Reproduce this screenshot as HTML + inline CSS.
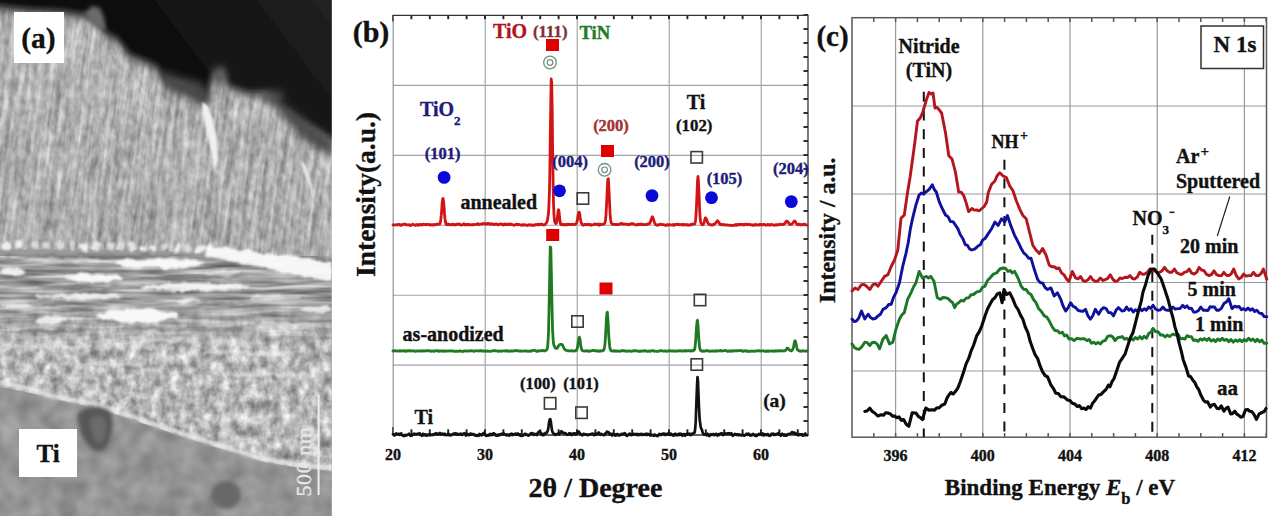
<!DOCTYPE html><html><head><meta charset="utf-8"><style>html,body{margin:0;padding:0;background:#fff;overflow:hidden}svg{display:block}text{font-family:"Liberation Serif", serif;font-weight:bold}</style></head><body>
<svg width="1280" height="516" viewBox="0 0 1280 516">
<defs>
<filter id="colF" filterUnits="userSpaceOnUse" x="-10" y="0" width="380" height="268" color-interpolation-filters="sRGB"><feTurbulence type="fractalNoise" baseFrequency="0.19 0.016" numOctaves="3" seed="4"/><feColorMatrix type="matrix" values="0.6 0 0 0 0.39  0.6 0 0 0 0.39  0.6 0 0 0 0.39  0 0 0 0 1"/><feGaussianBlur stdDeviation="0.6"/></filter>
<filter id="layF" filterUnits="userSpaceOnUse" x="0" y="256" width="332" height="230" color-interpolation-filters="sRGB"><feTurbulence type="fractalNoise" baseFrequency="0.02 0.2" numOctaves="2" seed="8"/><feColorMatrix type="matrix" values="1.2 0 0 0 0.05  1.2 0 0 0 0.05  1.2 0 0 0 0.05  0 0 0 0 1"/></filter>
<filter id="spkF" filterUnits="userSpaceOnUse" x="0" y="300" width="332" height="190" color-interpolation-filters="sRGB"><feTurbulence type="fractalNoise" baseFrequency="0.1 0.08" numOctaves="3" seed="12"/><feColorMatrix type="matrix" values="0.8 0 0 0 0.33  0.8 0 0 0 0.33  0.8 0 0 0 0.33  0 0 0 0 1"/></filter>
<linearGradient id="spkG" x1="0" y1="0" x2="0" y2="1"><stop offset="0" stop-color="#fff" stop-opacity="0"/><stop offset="0.25" stop-color="#fff" stop-opacity="0.9"/><stop offset="1" stop-color="#fff" stop-opacity="0.9"/></linearGradient>
<mask id="spkM" maskUnits="userSpaceOnUse" x="0" y="300" width="332" height="190"><rect x="0" y="300" width="332" height="190" fill="url(#spkG)"/></mask>
<filter id="subF" filterUnits="userSpaceOnUse" x="0" y="380" width="332" height="140" color-interpolation-filters="sRGB"><feTurbulence type="fractalNoise" baseFrequency="0.05 0.05" numOctaves="2" seed="21"/><feColorMatrix type="matrix" values="0.25 0 0 0 0.455  0.25 0 0 0 0.455  0.25 0 0 0 0.455  0 0 0 0 1"/><feComposite operator="in" in2="SourceGraphic"/></filter>
<filter id="blur1" x="-50%" y="-50%" width="200%" height="200%"><feGaussianBlur stdDeviation="1"/></filter>
<filter id="blur15" x="-20%" y="-100%" width="140%" height="300%"><feGaussianBlur stdDeviation="1.5"/></filter>
<filter id="rough" filterUnits="userSpaceOnUse" x="0" y="230" width="332" height="170"><feTurbulence type="fractalNoise" baseFrequency="0.09 0.12" numOctaves="2" seed="3" result="n"/><feDisplacementMap in="SourceGraphic" in2="n" scale="7" xChannelSelector="R" yChannelSelector="G"/><feGaussianBlur stdDeviation="1"/></filter>
<linearGradient id="colG" x1="0" y1="0" x2="0" y2="262" gradientUnits="userSpaceOnUse"><stop offset="0" stop-color="#fff" stop-opacity="0.12"/><stop offset="0.5" stop-color="#fff" stop-opacity="0"/><stop offset="1" stop-color="#000" stop-opacity="0.05"/></linearGradient>
<linearGradient id="darkG" x1="335" y1="0" x2="190" y2="110" gradientUnits="userSpaceOnUse"><stop offset="0" stop-color="#222"/><stop offset="0.4" stop-color="#181818"/><stop offset="1" stop-color="#0e0e0e"/></linearGradient>
<filter id="isoF" filterUnits="userSpaceOnUse" x="0" y="0" width="332" height="262" color-interpolation-filters="sRGB"><feTurbulence type="fractalNoise" baseFrequency="0.16 0.1" numOctaves="2" seed="31"/><feColorMatrix type="matrix" values="1.0 0 0 0 0.19  1.0 0 0 0 0.19  1.0 0 0 0 0.19  0 0 0 0 1"/></filter>
<filter id="blur2" x="-50%" y="-50%" width="200%" height="200%"><feGaussianBlur stdDeviation="2"/></filter>
<filter id="blur4" x="-50%" y="-50%" width="200%" height="200%"><feGaussianBlur stdDeviation="4"/></filter>
<filter id="blur8" x="-10%" y="-10%" width="120%" height="120%"><feGaussianBlur stdDeviation="8"/></filter>
<clipPath id="clipA"><rect x="0" y="0" width="331.5" height="516"/></clipPath>
</defs>
<g clip-path="url(#clipA)">
<rect x="0" y="0" width="332" height="516" fill="#a9a9a9"/>
<g transform="skewX(-7)"><rect x="-10" y="0" width="380" height="268" filter="url(#colF)"/></g>
<rect x="0" y="0" width="332" height="262" filter="url(#isoF)" opacity="0.3"/>
<rect x="0" y="0" width="332" height="262" fill="url(#colG)"/>
<path d="M0,250 C80,248 160,250 210,254 C260,260 300,265 332,269 L332,480 L0,480 Z" fill="#9a9a9a"/>
<rect x="0" y="256" width="332" height="230" filter="url(#layF)" opacity="0.6"/>
<rect x="0" y="300" width="332" height="190" filter="url(#spkF)" mask="url(#spkM)"/>
<g filter="url(#rough)">
<ellipse cx="159.5" cy="263.5" rx="44.5" ry="4.5" fill="#f8f8f8" opacity="1.00"/>
<ellipse cx="13.0" cy="271.5" rx="13.0" ry="4.5" fill="#f8f8f8" opacity="0.90"/>
<ellipse cx="94.0" cy="278.0" rx="29.0" ry="4.0" fill="#f8f8f8" opacity="1.00"/>
<ellipse cx="194.0" cy="287.0" rx="55.0" ry="4.0" fill="#f8f8f8" opacity="0.90"/>
<ellipse cx="78.5" cy="296.0" rx="44.5" ry="3.0" fill="#f8f8f8" opacity="0.85"/>
<ellipse cx="137.5" cy="316.0" rx="40.5" ry="7.0" fill="#f8f8f8" opacity="1.00"/>
<ellipse cx="51.0" cy="320.0" rx="17.0" ry="4.0" fill="#f8f8f8" opacity="0.85"/>
<ellipse cx="316.5" cy="310.0" rx="15.5" ry="4.0" fill="#f8f8f8" opacity="0.80"/>
<ellipse cx="188.5" cy="301.5" rx="10.5" ry="3.5" fill="#f8f8f8" opacity="0.80"/>
<ellipse cx="275.0" cy="297.5" rx="25.0" ry="2.5" fill="#f8f8f8" opacity="0.60"/>
<ellipse cx="15.0" cy="305.5" rx="15.0" ry="2.5" fill="#f8f8f8" opacity="0.60"/>
<ellipse cx="285.0" cy="324.5" rx="35.0" ry="2.5" fill="#f8f8f8" opacity="0.50"/>
<ellipse cx="165.0" cy="340.0" rx="35.0" ry="2.0" fill="#f8f8f8" opacity="0.50"/>
<ellipse cx="50.0" cy="347.0" rx="40.0" ry="2.0" fill="#f8f8f8" opacity="0.50"/>
<ellipse cx="250.0" cy="352.5" rx="50.0" ry="2.5" fill="#f8f8f8" opacity="0.50"/>
<ellipse cx="105.0" cy="364.0" rx="45.0" ry="2.0" fill="#f8f8f8" opacity="0.45"/>
<ellipse cx="275.0" cy="374.5" rx="45.0" ry="2.5" fill="#f8f8f8" opacity="0.45"/>
<ellipse cx="222.5" cy="273.0" rx="17.5" ry="3.0" fill="#f8f8f8" opacity="0.60"/>
<ellipse cx="60.0" cy="260.0" rx="40.0" ry="2.0" fill="#f8f8f8" opacity="0.50"/>
<ellipse cx="100.0" cy="256.0" rx="100.0" ry="2.0" fill="#707070" opacity="0.6"/>
<ellipse cx="80.0" cy="271.5" rx="50.0" ry="1.5" fill="#707070" opacity="0.6"/>
<ellipse cx="85.0" cy="287.5" rx="55.0" ry="1.5" fill="#707070" opacity="0.6"/>
<ellipse cx="190.0" cy="278.5" rx="50.0" ry="1.5" fill="#707070" opacity="0.6"/>
<ellipse cx="70.0" cy="304.5" rx="40.0" ry="1.5" fill="#707070" opacity="0.6"/>
<ellipse cx="220.0" cy="303.5" rx="40.0" ry="1.5" fill="#707070" opacity="0.6"/>
<ellipse cx="170.0" cy="328.5" rx="50.0" ry="1.5" fill="#707070" opacity="0.6"/>
<ellipse cx="40.0" cy="331.5" rx="40.0" ry="1.5" fill="#707070" opacity="0.6"/>
<ellipse cx="6.1" cy="246.7" rx="4.1" ry="4.6" fill="#f4f4f4" opacity="0.93"/>
<ellipse cx="19.9" cy="244.7" rx="4.8" ry="3.9" fill="#f4f4f4" opacity="0.93"/>
<ellipse cx="34.0" cy="245.1" rx="4.8" ry="3.9" fill="#f4f4f4" opacity="0.69"/>
<ellipse cx="46.9" cy="245.0" rx="3.9" ry="3.4" fill="#f4f4f4" opacity="0.70"/>
<ellipse cx="60.9" cy="245.5" rx="4.4" ry="4.6" fill="#f4f4f4" opacity="0.65"/>
<ellipse cx="72.6" cy="245.2" rx="2.8" ry="4.7" fill="#f4f4f4" opacity="0.67"/>
<ellipse cx="83.2" cy="247.9" rx="5.0" ry="3.6" fill="#f4f4f4" opacity="0.94"/>
<ellipse cx="96.6" cy="246.0" rx="4.2" ry="4.9" fill="#f4f4f4" opacity="0.84"/>
<ellipse cx="111.3" cy="246.5" rx="4.7" ry="3.7" fill="#f4f4f4" opacity="0.66"/>
<ellipse cx="121.3" cy="246.6" rx="2.7" ry="4.2" fill="#f4f4f4" opacity="0.60"/>
<ellipse cx="132.0" cy="246.7" rx="3.3" ry="4.6" fill="#f4f4f4" opacity="0.77"/>
<ellipse cx="142.4" cy="248.0" rx="3.7" ry="3.1" fill="#f4f4f4" opacity="0.94"/>
<ellipse cx="152.5" cy="248.5" rx="4.4" ry="3.0" fill="#f4f4f4" opacity="0.88"/>
<ellipse cx="164.3" cy="246.1" rx="3.9" ry="3.1" fill="#f4f4f4" opacity="0.66"/>
<ellipse cx="177.1" cy="248.5" rx="3.0" ry="4.9" fill="#f4f4f4" opacity="0.93"/>
<ellipse cx="186.8" cy="247.9" rx="3.4" ry="4.6" fill="#f4f4f4" opacity="0.64"/>
<ellipse cx="199.7" cy="249.0" rx="4.5" ry="3.1" fill="#f4f4f4" opacity="0.93"/>
<ellipse cx="209.9" cy="248.4" rx="3.4" ry="4.8" fill="#f4f4f4" opacity="0.72"/>
<path d="M205,246 C230,248 260,252 332,262 L332,281 C300,276 262,268 240,262 C225,259 212,258 205,256 Z" fill="#fbfbfb" opacity="0.95"/>
</g>
<path d="M0,387 L32,393.5 L106,411 L193,440 L260,461 L294,467 L332,471 L332,516 L0,516 Z" fill="#929292"/>
<path d="M0,387 L32,393.5 L106,411 L193,440 L260,461 L294,467 L332,471 L332,516 L0,516 Z" filter="url(#subF)"/>
<path d="M0,382 L14,385 L34,389.5 L47,395 L95,404 L106,408 L193,437 L260,458 L294,464 L332,468" fill="none" stroke="#ececec" stroke-width="4" filter="url(#blur15)" opacity="0.85"/>
<path d="M77,416 C80,406 104,403 111,413 C115,427 110,446 101,451 C92,453 84,442 80,432 Z" fill="#575757" filter="url(#blur2)"/>
<path d="M90,420 C94,414 104,414 106,422 C108,432 104,442 99,444 C94,442 91,432 90,420 Z" fill="#6c6c6c" filter="url(#blur2)"/>
<ellipse cx="226" cy="495" rx="15" ry="14" fill="#686868" filter="url(#blur2)"/>
<path d="M-20,-20 L-20,4.6 L0,4.6 L31,7.8 L62,9.3 L80,12 L90,14 L100,22 L106,31 L118,37 L130,52.7 L145.8,59 L158,65 L164.4,77.5 L186,83.7 L198.5,93 L204.7,99 L209,82 L214,72 L223,68 L229.5,83.7 L248,90 L266.7,90 L279,102 L297.7,117 L310,124 L322.6,131 L335,139 L360,142 L360,-20 Z" fill="#3a3a3a" transform="translate(0,7)" filter="url(#blur4)" opacity="0.8"/>
<path d="M-20,-20 L-20,4.6 L0,4.6 L31,7.8 L62,9.3 L80,12 L90,14 L100,22 L106,31 L118,37 L130,52.7 L145.8,59 L158,65 L164.4,77.5 L186,83.7 L198.5,93 L204.7,99 L209,82 L214,72 L223,68 L229.5,83.7 L248,90 L266.7,90 L279,102 L297.7,117 L310,124 L322.6,131 L335,139 L360,142 L360,-20 Z" fill="#555" transform="translate(0,3)" filter="url(#blur2)"/>
<path d="M-20,-20 L-20,4.6 L0,4.6 L31,7.8 L62,9.3 L80,12 L90,14 L100,22 L106,31 L118,37 L130,52.7 L145.8,59 L158,65 L164.4,77.5 L186,83.7 L198.5,93 L204.7,99 L209,82 L214,72 L223,68 L229.5,83.7 L248,90 L266.7,90 L279,102 L297.7,117 L310,124 L322.6,131 L335,139 L360,142 L360,-20 Z" fill="url(#darkG)" filter="url(#blur2)"/>
<path d="M160,70 L182,78 L200,82 L212,96 L206,106 L190,98 L172,92 L162,82 Z" fill="#4a4a4a" filter="url(#blur4)"/>
<path d="M276,100 L296,113 L312,126 L335,143 L335,156 L318,150 L300,136 L284,116 Z" fill="#4a4a4a" filter="url(#blur4)"/>
<path d="M84,14 L92,6 L100,8 L104,18 L106,30 L98,28 L90,20 Z" fill="#6a6a6a" filter="url(#blur2)"/>
<ellipse cx="219" cy="76" rx="7" ry="10" fill="#5a5a5a" filter="url(#blur4)"/>
<ellipse cx="272" cy="97" rx="12" ry="6" fill="#555" filter="url(#blur4)"/>
<path d="M202,102 L208,106 L213,120 L217,140 L218,160 L214,172 L211,150 L206,128 L203,114 Z" fill="#f0f0f0" filter="url(#blur1)"/>
<path d="M300,160 L306,165 L312,185 L314,203 L309,185 L303,170 Z" fill="#e8e8e8" filter="url(#blur1)"/>
</g>
<rect x="14" y="12" width="50" height="51" fill="#fff"/>
<text x="38.5" y="48.3" font-size="29.5" text-anchor="middle" fill="#111" stroke="#111" stroke-width="0.35">(a)</text>
<rect x="19" y="429" width="58" height="48" fill="#fff"/>
<text x="48" y="462" font-size="25" text-anchor="middle" fill="#111" stroke="#111" stroke-width="0.35">Ti</text>
<line x1="318.6" y1="395" x2="318.6" y2="495" stroke="#eee" stroke-width="2"/>
<text transform="translate(311,496.5) rotate(-90)" font-size="22" textLength="69.5" fill="#e6e6e6" style="font-weight:normal" stroke="#e6e6e6" stroke-width="0.35">500 nm</text>
<line x1="485.2" y1="15" x2="485.2" y2="435" stroke="#a2a2a2" stroke-width="1.15"/>
<line x1="577.2" y1="15" x2="577.2" y2="435" stroke="#a2a2a2" stroke-width="1.15"/>
<line x1="669.2" y1="15" x2="669.2" y2="435" stroke="#a2a2a2" stroke-width="1.15"/>
<line x1="761.2" y1="15" x2="761.2" y2="435" stroke="#a2a2a2" stroke-width="1.15"/>
<line x1="393" y1="85.3" x2="808" y2="85.3" stroke="#a2a2a2" stroke-width="1.15"/>
<line x1="393" y1="155.3" x2="808" y2="155.3" stroke="#a2a2a2" stroke-width="1.15"/>
<line x1="393" y1="225.2" x2="808" y2="225.2" stroke="#a2a2a2" stroke-width="1.15"/>
<line x1="393" y1="295.2" x2="808" y2="295.2" stroke="#a2a2a2" stroke-width="1.15"/>
<line x1="393" y1="365.1" x2="808" y2="365.1" stroke="#a2a2a2" stroke-width="1.15"/>
<line x1="393.0" y1="15" x2="393.0" y2="21.5" stroke="#222" stroke-width="1.9"/>
<line x1="393.0" y1="435" x2="393.0" y2="427.0" stroke="#222" stroke-width="1.9"/>
<line x1="411.4" y1="15" x2="411.4" y2="19.2" stroke="#222" stroke-width="1.9"/>
<line x1="411.4" y1="435" x2="411.4" y2="429.3" stroke="#222" stroke-width="1.9"/>
<line x1="429.8" y1="15" x2="429.8" y2="19.2" stroke="#222" stroke-width="1.9"/>
<line x1="429.8" y1="435" x2="429.8" y2="429.3" stroke="#222" stroke-width="1.9"/>
<line x1="448.2" y1="15" x2="448.2" y2="19.2" stroke="#222" stroke-width="1.9"/>
<line x1="448.2" y1="435" x2="448.2" y2="429.3" stroke="#222" stroke-width="1.9"/>
<line x1="466.6" y1="15" x2="466.6" y2="19.2" stroke="#222" stroke-width="1.9"/>
<line x1="466.6" y1="435" x2="466.6" y2="429.3" stroke="#222" stroke-width="1.9"/>
<line x1="485.0" y1="15" x2="485.0" y2="19.2" stroke="#222" stroke-width="1.9"/>
<line x1="485.0" y1="435" x2="485.0" y2="429.3" stroke="#222" stroke-width="1.9"/>
<line x1="503.4" y1="15" x2="503.4" y2="19.2" stroke="#222" stroke-width="1.9"/>
<line x1="503.4" y1="435" x2="503.4" y2="429.3" stroke="#222" stroke-width="1.9"/>
<line x1="521.8" y1="15" x2="521.8" y2="19.2" stroke="#222" stroke-width="1.9"/>
<line x1="521.8" y1="435" x2="521.8" y2="429.3" stroke="#222" stroke-width="1.9"/>
<line x1="540.2" y1="15" x2="540.2" y2="19.2" stroke="#222" stroke-width="1.9"/>
<line x1="540.2" y1="435" x2="540.2" y2="429.3" stroke="#222" stroke-width="1.9"/>
<line x1="558.6" y1="15" x2="558.6" y2="19.2" stroke="#222" stroke-width="1.9"/>
<line x1="558.6" y1="435" x2="558.6" y2="429.3" stroke="#222" stroke-width="1.9"/>
<line x1="577.0" y1="15" x2="577.0" y2="19.2" stroke="#222" stroke-width="1.9"/>
<line x1="577.0" y1="435" x2="577.0" y2="429.3" stroke="#222" stroke-width="1.9"/>
<line x1="595.4" y1="15" x2="595.4" y2="19.2" stroke="#222" stroke-width="1.9"/>
<line x1="595.4" y1="435" x2="595.4" y2="429.3" stroke="#222" stroke-width="1.9"/>
<line x1="613.8" y1="15" x2="613.8" y2="19.2" stroke="#222" stroke-width="1.9"/>
<line x1="613.8" y1="435" x2="613.8" y2="429.3" stroke="#222" stroke-width="1.9"/>
<line x1="632.2" y1="15" x2="632.2" y2="19.2" stroke="#222" stroke-width="1.9"/>
<line x1="632.2" y1="435" x2="632.2" y2="429.3" stroke="#222" stroke-width="1.9"/>
<line x1="650.6" y1="15" x2="650.6" y2="19.2" stroke="#222" stroke-width="1.9"/>
<line x1="650.6" y1="435" x2="650.6" y2="429.3" stroke="#222" stroke-width="1.9"/>
<line x1="669.0" y1="15" x2="669.0" y2="19.2" stroke="#222" stroke-width="1.9"/>
<line x1="669.0" y1="435" x2="669.0" y2="429.3" stroke="#222" stroke-width="1.9"/>
<line x1="687.4" y1="15" x2="687.4" y2="19.2" stroke="#222" stroke-width="1.9"/>
<line x1="687.4" y1="435" x2="687.4" y2="429.3" stroke="#222" stroke-width="1.9"/>
<line x1="705.8" y1="15" x2="705.8" y2="19.2" stroke="#222" stroke-width="1.9"/>
<line x1="705.8" y1="435" x2="705.8" y2="429.3" stroke="#222" stroke-width="1.9"/>
<line x1="724.2" y1="15" x2="724.2" y2="19.2" stroke="#222" stroke-width="1.9"/>
<line x1="724.2" y1="435" x2="724.2" y2="429.3" stroke="#222" stroke-width="1.9"/>
<line x1="742.6" y1="15" x2="742.6" y2="19.2" stroke="#222" stroke-width="1.9"/>
<line x1="742.6" y1="435" x2="742.6" y2="429.3" stroke="#222" stroke-width="1.9"/>
<line x1="761.0" y1="15" x2="761.0" y2="19.2" stroke="#222" stroke-width="1.9"/>
<line x1="761.0" y1="435" x2="761.0" y2="429.3" stroke="#222" stroke-width="1.9"/>
<line x1="779.4" y1="15" x2="779.4" y2="19.2" stroke="#222" stroke-width="1.9"/>
<line x1="779.4" y1="435" x2="779.4" y2="429.3" stroke="#222" stroke-width="1.9"/>
<line x1="797.8" y1="15" x2="797.8" y2="19.2" stroke="#222" stroke-width="1.9"/>
<line x1="797.8" y1="435" x2="797.8" y2="429.3" stroke="#222" stroke-width="1.9"/>
<line x1="808" y1="15" x2="803.5" y2="15" stroke="#222" stroke-width="1.9"/>
<line x1="808" y1="29" x2="803.5" y2="29" stroke="#222" stroke-width="1.9"/>
<line x1="808" y1="43" x2="803.5" y2="43" stroke="#222" stroke-width="1.9"/>
<line x1="808" y1="57" x2="803.5" y2="57" stroke="#222" stroke-width="1.9"/>
<line x1="808" y1="71" x2="803.5" y2="71" stroke="#222" stroke-width="1.9"/>
<line x1="808" y1="85" x2="803.5" y2="85" stroke="#222" stroke-width="1.9"/>
<line x1="808" y1="99" x2="803.5" y2="99" stroke="#222" stroke-width="1.9"/>
<line x1="808" y1="113" x2="803.5" y2="113" stroke="#222" stroke-width="1.9"/>
<line x1="808" y1="127" x2="803.5" y2="127" stroke="#222" stroke-width="1.9"/>
<line x1="808" y1="141" x2="803.5" y2="141" stroke="#222" stroke-width="1.9"/>
<line x1="808" y1="155" x2="803.5" y2="155" stroke="#222" stroke-width="1.9"/>
<line x1="808" y1="169" x2="803.5" y2="169" stroke="#222" stroke-width="1.9"/>
<line x1="808" y1="183" x2="803.5" y2="183" stroke="#222" stroke-width="1.9"/>
<line x1="808" y1="197" x2="803.5" y2="197" stroke="#222" stroke-width="1.9"/>
<line x1="808" y1="211" x2="803.5" y2="211" stroke="#222" stroke-width="1.9"/>
<line x1="808" y1="225" x2="803.5" y2="225" stroke="#222" stroke-width="1.9"/>
<line x1="808" y1="239" x2="803.5" y2="239" stroke="#222" stroke-width="1.9"/>
<line x1="808" y1="253" x2="803.5" y2="253" stroke="#222" stroke-width="1.9"/>
<line x1="808" y1="267" x2="803.5" y2="267" stroke="#222" stroke-width="1.9"/>
<line x1="808" y1="281" x2="803.5" y2="281" stroke="#222" stroke-width="1.9"/>
<line x1="808" y1="295" x2="803.5" y2="295" stroke="#222" stroke-width="1.9"/>
<line x1="808" y1="309" x2="803.5" y2="309" stroke="#222" stroke-width="1.9"/>
<line x1="808" y1="323" x2="803.5" y2="323" stroke="#222" stroke-width="1.9"/>
<line x1="808" y1="337" x2="803.5" y2="337" stroke="#222" stroke-width="1.9"/>
<line x1="808" y1="351" x2="803.5" y2="351" stroke="#222" stroke-width="1.9"/>
<line x1="808" y1="365" x2="803.5" y2="365" stroke="#222" stroke-width="1.9"/>
<line x1="808" y1="379" x2="803.5" y2="379" stroke="#222" stroke-width="1.9"/>
<line x1="808" y1="393" x2="803.5" y2="393" stroke="#222" stroke-width="1.9"/>
<line x1="808" y1="407" x2="803.5" y2="407" stroke="#222" stroke-width="1.9"/>
<line x1="808" y1="421" x2="803.5" y2="421" stroke="#222" stroke-width="1.9"/>
<line x1="808" y1="435" x2="803.5" y2="435" stroke="#222" stroke-width="1.9"/>
<line x1="393.2" y1="15" x2="393.2" y2="435" stroke="#888" stroke-width="1.1"/>
<path d="M393,15.3 H808 V435 H393" fill="none" stroke="#333" stroke-width="1.3"/>
<polyline points="393.0,224.8 393.5,224.8 393.9,225.2 394.4,225.0 394.8,224.9 395.3,225.0 395.8,224.6 396.2,224.7 396.7,224.8 397.1,225.1 397.6,224.6 398.1,224.5 398.5,224.3 399.0,224.7 399.4,224.9 399.9,224.5 400.4,225.0 400.8,225.4 401.3,225.3 401.7,225.2 402.2,224.7 402.7,224.3 403.1,224.5 403.6,224.2 404.0,224.2 404.5,224.2 405.0,224.0 405.4,224.3 405.9,224.4 406.3,224.9 406.8,224.9 407.3,225.0 407.7,224.9 408.2,225.0 408.6,224.9 409.1,224.6 409.6,225.1 410.0,225.5 410.5,225.5 410.9,225.4 411.4,225.0 411.9,224.7 412.3,224.5 412.8,224.2 413.2,224.7 413.7,224.6 414.2,225.0 414.6,224.8 415.1,225.2 415.5,225.4 416.0,224.7 416.5,224.5 416.9,225.0 417.4,224.9 417.8,225.3 418.3,225.0 418.8,224.5 419.2,224.7 419.7,225.0 420.1,224.7 420.6,224.4 421.1,224.4 421.5,225.0 422.0,225.1 422.4,224.6 422.9,224.5 423.4,224.2 423.8,224.1 424.3,224.6 424.7,224.4 425.2,224.6 425.7,224.6 426.1,224.4 426.6,224.8 427.0,224.4 427.5,224.7 428.0,224.4 428.4,224.5 428.9,224.3 429.3,224.3 429.8,224.9 430.3,225.1 430.7,224.8 431.2,225.1 431.6,224.7 432.1,224.6 432.6,225.0 433.0,225.0 433.5,224.5 433.9,225.1 434.4,224.7 434.9,224.5 435.3,224.8 435.8,224.6 436.2,224.4 436.7,224.1 437.2,224.0 437.6,224.3 438.1,224.2 438.5,224.4 439.0,224.2 439.5,224.0 439.9,223.8 440.4,222.2 440.8,219.4 441.3,215.2 441.8,208.8 442.2,202.4 442.7,198.7 443.1,198.5 443.6,201.7 444.1,207.3 444.5,213.7 445.0,218.9 445.4,221.6 445.9,223.7 446.4,224.6 446.8,224.8 447.3,224.7 447.7,224.3 448.2,224.0 448.7,224.7 449.1,224.5 449.6,224.7 450.0,224.5 450.5,224.9 451.0,224.9 451.4,224.6 451.9,224.4 452.3,224.7 452.8,224.3 453.3,224.2 453.7,224.5 454.2,224.9 454.6,224.9 455.1,224.6 455.6,225.0 456.0,224.6 456.5,224.2 456.9,224.2 457.4,224.4 457.9,224.1 458.3,224.0 458.8,224.2 459.2,224.4 459.7,224.2 460.2,224.2 460.6,224.8 461.1,225.1 461.5,225.1 462.0,225.1 462.5,225.0 462.9,224.5 463.4,224.1 463.8,223.8 464.3,224.5 464.8,224.7 465.2,225.0 465.7,224.4 466.1,224.5 466.6,224.5 467.1,224.7 467.5,224.4 468.0,224.9 468.4,224.3 468.9,224.4 469.4,224.6 469.8,224.8 470.3,224.8 470.7,224.8 471.2,224.8 471.7,225.0 472.1,224.5 472.6,224.6 473.0,224.8 473.5,224.8 474.0,224.5 474.4,224.6 474.9,224.7 475.3,224.5 475.8,224.4 476.3,224.2 476.7,224.2 477.2,224.2 477.6,223.7 478.1,223.9 478.6,224.4 479.0,224.5 479.5,224.5 479.9,224.1 480.4,224.2 480.9,224.1 481.3,224.0 481.8,224.2 482.2,223.7 482.7,223.9 483.2,223.5 483.6,223.7 484.1,223.7 484.5,223.5 485.0,223.8 485.5,223.8 485.9,223.9 486.4,224.2 486.8,223.8 487.3,223.4 487.8,223.4 488.2,223.7 488.7,223.5 489.1,223.4 489.6,223.9 490.1,224.1 490.5,224.0 491.0,224.3 491.4,224.0 491.9,224.1 492.4,223.8 492.8,223.8 493.3,224.2 493.7,224.5 494.2,224.7 494.7,224.4 495.1,224.3 495.6,224.1 496.0,223.8 496.5,224.0 497.0,224.4 497.4,224.6 497.9,224.7 498.3,224.9 498.8,224.5 499.3,224.1 499.7,224.2 500.2,224.1 500.6,223.9 501.1,224.1 501.6,224.3 502.0,224.4 502.5,224.2 502.9,224.7 503.4,225.0 503.9,224.8 504.3,224.3 504.8,224.0 505.2,224.6 505.7,224.2 506.2,224.5 506.6,224.6 507.1,224.4 507.5,224.8 508.0,224.3 508.5,224.1 508.9,224.3 509.4,224.0 509.8,224.6 510.3,224.4 510.8,224.2 511.2,224.0 511.7,224.4 512.1,224.5 512.6,224.7 513.1,224.8 513.5,225.1 514.0,225.3 514.4,225.3 514.9,224.8 515.4,224.7 515.8,224.4 516.3,224.1 516.7,224.3 517.2,224.7 517.7,224.4 518.1,224.3 518.6,224.4 519.0,224.7 519.5,224.7 520.0,224.8 520.4,225.0 520.9,224.8 521.3,225.1 521.8,225.3 522.3,224.7 522.7,225.1 523.2,225.2 523.6,224.7 524.1,224.7 524.6,224.8 525.0,225.1 525.5,224.9 525.9,224.9 526.4,225.2 526.9,225.3 527.3,225.5 527.8,225.1 528.2,225.1 528.7,224.7 529.2,224.9 529.6,225.1 530.1,225.1 530.5,225.1 531.0,224.7 531.5,225.1 531.9,225.4 532.4,225.5 532.8,225.2 533.3,225.3 533.8,224.9 534.2,225.2 534.7,225.3 535.1,224.9 535.6,224.4 536.1,224.5 536.5,224.6 537.0,224.9 537.4,224.8 537.9,224.3 538.4,224.7 538.8,224.3 539.3,224.7 539.7,224.3 540.2,224.3 540.7,224.6 541.1,224.3 541.6,224.0 542.0,224.2 542.5,224.5 543.0,224.8 543.4,224.8 543.9,225.0 544.3,224.6 544.8,224.8 545.3,224.1 545.7,223.6 546.2,223.3 546.6,222.3 547.1,221.3 547.6,219.4 548.0,216.6 548.5,212.8 548.9,205.8 549.4,192.4 549.9,169.1 550.3,136.3 550.8,101.5 551.2,78.9 551.7,82.6 552.2,110.5 552.6,147.8 553.1,181.1 553.5,203.1 554.0,215.2 554.5,220.4 554.9,222.5 555.4,222.8 555.8,223.6 556.3,223.2 556.8,221.9 557.2,219.4 557.7,215.0 558.1,210.8 558.6,209.7 559.1,212.0 559.5,216.8 560.0,220.7 560.4,223.4 560.9,224.6 561.4,224.5 561.8,224.5 562.3,224.2 562.7,224.3 563.2,224.7 563.7,225.0 564.1,224.8 564.6,224.6 565.0,224.3 565.5,224.6 566.0,225.0 566.4,224.5 566.9,224.8 567.3,224.3 567.8,224.2 568.3,224.1 568.7,224.5 569.2,224.4 569.6,224.4 570.1,224.6 570.6,224.3 571.0,224.6 571.5,224.3 571.9,224.5 572.4,224.3 572.9,224.2 573.3,224.4 573.8,224.4 574.2,224.4 574.7,224.4 575.2,224.4 575.6,224.0 576.1,223.5 576.5,223.0 577.0,221.7 577.5,219.4 577.9,216.8 578.4,213.9 578.8,212.4 579.3,212.2 579.8,214.4 580.2,217.5 580.7,220.5 581.1,222.3 581.6,223.4 582.1,224.5 582.5,224.4 583.0,225.0 583.4,225.2 583.9,224.7 584.4,224.4 584.8,224.7 585.3,224.5 585.7,224.2 586.2,224.7 586.7,224.6 587.1,224.9 587.6,224.5 588.0,224.5 588.5,224.7 589.0,224.3 589.4,224.2 589.9,224.6 590.3,225.0 590.8,225.3 591.3,224.7 591.7,224.7 592.2,224.9 592.6,224.8 593.1,224.9 593.6,224.6 594.0,224.2 594.5,224.0 594.9,223.9 595.4,224.2 595.9,224.4 596.3,224.6 596.8,224.3 597.2,224.1 597.7,224.0 598.2,224.6 598.6,225.0 599.1,225.2 599.5,224.6 600.0,224.1 600.5,224.7 600.9,224.5 601.4,224.7 601.8,224.4 602.3,224.3 602.8,224.3 603.2,224.2 603.7,224.2 604.1,223.5 604.6,223.4 605.1,222.6 605.5,219.7 606.0,214.9 606.4,207.5 606.9,197.2 607.4,186.6 607.8,179.3 608.3,178.7 608.7,184.4 609.2,195.0 609.7,205.6 610.1,213.9 610.6,219.4 611.0,222.2 611.5,223.2 612.0,223.8 612.4,223.9 612.9,224.4 613.3,224.5 613.8,224.1 614.3,224.4 614.7,224.5 615.2,224.5 615.6,224.6 616.1,224.3 616.6,224.5 617.0,224.6 617.5,224.5 617.9,224.6 618.4,224.6 618.9,224.2 619.3,224.3 619.8,223.8 620.2,223.7 620.7,223.8 621.2,223.4 621.6,223.5 622.1,223.8 622.5,224.0 623.0,223.7 623.5,224.2 623.9,224.3 624.4,224.0 624.8,224.1 625.3,224.1 625.8,224.1 626.2,224.0 626.7,224.4 627.1,224.4 627.6,224.4 628.1,224.5 628.5,224.8 629.0,224.1 629.4,224.2 629.9,224.4 630.4,224.1 630.8,224.0 631.3,223.7 631.7,223.6 632.2,223.7 632.7,223.6 633.1,223.6 633.6,224.2 634.0,224.3 634.5,224.3 635.0,224.7 635.4,224.6 635.9,225.0 636.3,224.9 636.8,225.0 637.3,224.4 637.7,224.5 638.2,224.7 638.6,224.2 639.1,224.7 639.6,224.3 640.0,224.4 640.5,224.1 640.9,224.3 641.4,224.5 641.9,224.1 642.3,224.7 642.8,224.6 643.2,224.6 643.7,224.7 644.2,224.5 644.6,224.4 645.1,224.6 645.5,224.7 646.0,224.5 646.5,224.7 646.9,224.5 647.4,224.1 647.8,224.0 648.3,223.8 648.8,223.6 649.2,223.8 649.7,223.2 650.1,222.7 650.6,221.5 651.1,219.4 651.5,218.4 652.0,217.6 652.4,216.7 652.9,217.7 653.4,218.8 653.8,220.3 654.3,222.2 654.7,223.0 655.2,223.8 655.7,224.6 656.1,224.9 656.6,224.8 657.0,225.2 657.5,225.3 658.0,225.2 658.4,224.7 658.9,224.8 659.3,224.7 659.8,224.5 660.3,224.2 660.7,224.4 661.2,224.2 661.6,224.4 662.1,224.7 662.6,224.7 663.0,224.5 663.5,224.7 663.9,224.6 664.4,224.9 664.9,224.9 665.3,225.3 665.8,225.5 666.2,225.4 666.7,224.9 667.2,224.5 667.6,225.0 668.1,225.1 668.5,225.1 669.0,224.8 669.5,224.6 669.9,224.8 670.4,224.9 670.8,224.9 671.3,225.0 671.8,225.1 672.2,224.7 672.7,224.5 673.1,225.0 673.6,225.3 674.1,225.4 674.5,224.8 675.0,224.4 675.4,224.3 675.9,224.4 676.4,224.7 676.8,224.4 677.3,224.6 677.7,224.3 678.2,224.1 678.7,224.5 679.1,224.7 679.6,224.8 680.0,224.7 680.5,224.7 681.0,224.5 681.4,224.4 681.9,224.8 682.3,225.1 682.8,224.6 683.3,224.3 683.7,224.8 684.2,224.9 684.6,225.1 685.1,224.7 685.6,224.6 686.0,224.4 686.5,224.8 686.9,224.7 687.4,224.8 687.9,225.2 688.3,224.9 688.8,224.8 689.2,225.0 689.7,225.2 690.2,224.9 690.6,224.7 691.1,224.3 691.5,224.7 692.0,224.3 692.5,224.0 692.9,224.2 693.4,224.3 693.8,224.4 694.3,224.0 694.8,223.9 695.2,222.3 695.7,219.2 696.1,213.6 696.6,203.6 697.1,191.4 697.5,180.8 698.0,176.4 698.4,180.7 698.9,191.4 699.4,203.7 699.8,213.7 700.3,219.5 700.7,222.1 701.2,223.6 701.7,224.1 702.1,224.6 702.6,224.8 703.0,224.7 703.5,223.8 704.0,223.0 704.4,221.2 704.9,219.4 705.3,218.0 705.8,218.0 706.3,218.8 706.7,219.7 707.2,221.1 707.6,222.5 708.1,223.4 708.6,224.0 709.0,224.2 709.5,224.2 709.9,224.4 710.4,224.8 710.9,224.8 711.3,225.1 711.8,225.0 712.2,224.6 712.7,224.8 713.2,225.1 713.6,224.6 714.1,224.1 714.5,224.0 715.0,223.7 715.5,223.1 715.9,222.8 716.4,222.0 716.8,221.5 717.3,220.7 717.8,221.0 718.2,221.8 718.7,222.2 719.1,222.6 719.6,223.7 720.1,224.5 720.5,224.3 721.0,224.6 721.4,224.4 721.9,224.8 722.4,224.9 722.8,224.6 723.3,224.4 723.7,224.8 724.2,224.8 724.7,225.0 725.1,224.8 725.6,224.7 726.0,225.1 726.5,225.1 727.0,225.0 727.4,224.9 727.9,225.1 728.3,225.1 728.8,225.4 729.3,225.1 729.7,225.2 730.2,225.2 730.6,225.4 731.1,225.4 731.6,225.5 732.0,225.5 732.5,225.6 732.9,225.4 733.4,225.2 733.9,225.2 734.3,225.3 734.8,225.0 735.2,224.9 735.7,224.5 736.2,224.8 736.6,225.3 737.1,225.0 737.5,224.6 738.0,224.4 738.5,224.5 738.9,224.4 739.4,225.0 739.8,224.5 740.3,224.5 740.8,224.2 741.2,224.6 741.7,224.9 742.1,224.6 742.6,224.3 743.1,224.4 743.5,224.7 744.0,225.1 744.4,224.5 744.9,224.3 745.4,224.2 745.8,224.2 746.3,224.2 746.7,224.6 747.2,224.8 747.7,224.5 748.1,224.4 748.6,224.3 749.0,224.2 749.5,224.7 750.0,224.6 750.4,224.7 750.9,225.0 751.3,224.9 751.8,224.6 752.3,225.1 752.7,225.3 753.2,225.0 753.6,224.9 754.1,225.3 754.6,225.1 755.0,224.7 755.5,224.3 755.9,224.9 756.4,225.1 756.9,224.9 757.3,224.9 757.8,224.9 758.2,224.6 758.7,225.1 759.2,225.1 759.6,224.8 760.1,224.3 760.5,224.5 761.0,224.5 761.5,224.9 761.9,225.0 762.4,225.0 762.8,224.6 763.3,224.4 763.8,224.4 764.2,224.3 764.7,224.8 765.1,224.8 765.6,224.9 766.1,225.3 766.5,224.9 767.0,224.9 767.4,224.5 767.9,224.9 768.4,224.4 768.8,224.8 769.3,225.1 769.7,225.3 770.2,224.7 770.7,224.5 771.1,224.8 771.6,224.5 772.0,224.6 772.5,224.6 773.0,225.1 773.4,225.1 773.9,225.3 774.3,224.9 774.8,225.1 775.3,224.9 775.7,225.2 776.2,224.7 776.6,225.0 777.1,224.7 777.6,224.7 778.0,224.8 778.5,224.5 778.9,224.9 779.4,224.7 779.9,224.5 780.3,224.2 780.8,224.3 781.2,224.4 781.7,224.7 782.2,224.6 782.6,224.7 783.1,224.2 783.5,224.1 784.0,223.8 784.5,223.9 784.9,223.5 785.4,222.9 785.8,221.7 786.3,221.2 786.8,221.3 787.2,221.2 787.7,221.8 788.1,222.3 788.6,222.5 789.1,223.7 789.5,224.4 790.0,224.2 790.4,224.5 790.9,224.4 791.4,224.2 791.8,224.2 792.3,223.6 792.7,223.1 793.2,222.4 793.7,222.0 794.1,221.3 794.6,220.9 795.0,221.4 795.5,221.8 796.0,223.0 796.4,223.6 796.9,224.2 797.3,224.3 797.8,224.8 798.3,224.5 798.7,224.3 799.2,224.1 799.6,224.5 800.1,224.8 800.6,224.5 801.0,224.5 801.5,224.9 801.9,225.0 802.4,224.5 802.9,224.4 803.3,224.2 803.8,224.1 804.2,224.3 804.7,224.1 805.2,224.8 805.6,224.7 806.1,224.7 806.5,224.9 807.0,225.1" fill="none" stroke="#d21414" stroke-width="2.8" stroke-linejoin="round" stroke-linecap="round" />
<polyline points="393.0,351.0 393.5,351.1 393.9,351.1 394.4,350.9 394.8,350.6 395.3,350.7 395.8,350.7 396.2,351.0 396.7,351.1 397.1,351.1 397.6,351.1 398.1,351.2 398.5,350.9 399.0,350.9 399.4,350.7 399.9,351.1 400.4,350.8 400.8,351.1 401.3,350.8 401.7,351.0 402.2,350.9 402.7,350.9 403.1,351.1 403.6,350.8 404.0,350.6 404.5,351.0 405.0,351.0 405.4,350.8 405.9,351.1 406.3,351.4 406.8,351.0 407.3,350.9 407.7,350.7 408.2,350.7 408.6,350.9 409.1,350.7 409.6,351.0 410.0,350.7 410.5,350.6 410.9,351.0 411.4,350.9 411.9,350.9 412.3,351.0 412.8,351.0 413.2,350.9 413.7,350.7 414.2,350.9 414.6,351.2 415.1,351.4 415.5,351.4 416.0,351.1 416.5,351.0 416.9,351.1 417.4,351.2 417.8,350.9 418.3,350.8 418.8,350.8 419.2,350.9 419.7,351.1 420.1,351.1 420.6,350.8 421.1,351.0 421.5,351.0 422.0,351.0 422.4,350.8 422.9,350.9 423.4,350.8 423.8,351.1 424.3,350.8 424.7,350.9 425.2,350.8 425.7,351.0 426.1,350.7 426.6,350.7 427.0,350.7 427.5,350.9 428.0,350.7 428.4,350.8 428.9,350.7 429.3,350.7 429.8,350.8 430.3,351.2 430.7,351.1 431.2,351.3 431.6,351.0 432.1,351.2 432.6,351.1 433.0,350.9 433.5,351.1 433.9,351.3 434.4,350.9 434.9,350.8 435.3,351.0 435.8,350.9 436.2,350.8 436.7,350.6 437.2,350.5 437.6,350.8 438.1,351.1 438.5,351.4 439.0,351.2 439.5,350.9 439.9,350.8 440.4,351.1 440.8,351.2 441.3,351.2 441.8,351.0 442.2,351.0 442.7,351.0 443.1,351.1 443.6,350.9 444.1,351.2 444.5,351.4 445.0,351.0 445.4,350.9 445.9,351.2 446.4,351.0 446.8,351.2 447.3,351.2 447.7,351.2 448.2,351.2 448.7,351.0 449.1,350.9 449.6,350.8 450.0,351.0 450.5,351.1 451.0,350.8 451.4,351.1 451.9,351.0 452.3,350.9 452.8,350.9 453.3,351.2 453.7,351.2 454.2,351.2 454.6,351.4 455.1,351.5 455.6,351.4 456.0,351.2 456.5,351.2 456.9,351.3 457.4,351.4 457.9,351.3 458.3,351.1 458.8,351.0 459.2,351.1 459.7,351.1 460.2,350.8 460.6,351.0 461.1,351.2 461.5,351.3 462.0,351.4 462.5,351.5 462.9,351.3 463.4,351.4 463.8,351.1 464.3,350.8 464.8,350.8 465.2,350.8 465.7,351.1 466.1,351.2 466.6,351.1 467.1,351.2 467.5,350.9 468.0,350.9 468.4,351.1 468.9,351.0 469.4,350.8 469.8,350.8 470.3,350.8 470.7,351.0 471.2,350.8 471.7,350.6 472.1,350.7 472.6,350.9 473.0,351.1 473.5,351.2 474.0,351.4 474.4,351.1 474.9,350.8 475.3,350.9 475.8,350.9 476.3,350.7 476.7,350.9 477.2,350.9 477.6,350.8 478.1,350.8 478.6,351.1 479.0,350.8 479.5,350.8 479.9,350.7 480.4,350.7 480.9,350.8 481.3,350.7 481.8,351.1 482.2,351.0 482.7,351.1 483.2,350.9 483.6,350.9 484.1,351.0 484.5,351.2 485.0,351.0 485.5,351.0 485.9,351.2 486.4,351.3 486.8,351.0 487.3,351.0 487.8,351.2 488.2,351.0 488.7,351.1 489.1,351.2 489.6,351.4 490.1,351.3 490.5,351.3 491.0,351.1 491.4,351.2 491.9,351.0 492.4,351.0 492.8,350.9 493.3,350.8 493.7,350.7 494.2,350.6 494.7,350.8 495.1,350.7 495.6,350.6 496.0,350.9 496.5,350.8 497.0,351.1 497.4,351.1 497.9,351.0 498.3,351.2 498.8,351.4 499.3,351.1 499.7,350.8 500.2,351.0 500.6,351.2 501.1,351.2 501.6,351.3 502.0,351.1 502.5,351.1 502.9,350.9 503.4,350.9 503.9,350.9 504.3,350.8 504.8,350.8 505.2,351.1 505.7,350.8 506.2,350.7 506.6,350.7 507.1,351.1 507.5,351.1 508.0,350.8 508.5,351.1 508.9,351.3 509.4,351.3 509.8,351.1 510.3,351.2 510.8,351.0 511.2,350.8 511.7,351.1 512.1,351.2 512.6,351.0 513.1,351.2 513.5,350.8 514.0,350.8 514.4,350.6 514.9,350.5 515.4,350.5 515.8,350.8 516.3,350.8 516.7,350.7 517.2,350.6 517.7,350.6 518.1,351.0 518.6,351.0 519.0,350.8 519.5,351.0 520.0,351.0 520.4,351.0 520.9,351.0 521.3,351.1 521.8,351.2 522.3,351.1 522.7,351.1 523.2,351.1 523.6,351.1 524.1,351.0 524.6,350.9 525.0,350.9 525.5,351.1 525.9,350.9 526.4,351.2 526.9,351.1 527.3,351.2 527.8,351.2 528.2,351.4 528.7,351.3 529.2,351.1 529.6,351.0 530.1,351.0 530.5,351.2 531.0,351.3 531.5,350.9 531.9,350.7 532.4,350.5 532.8,350.4 533.3,350.4 533.8,350.3 534.2,350.4 534.7,350.4 535.1,350.7 535.6,350.8 536.1,351.1 536.5,351.3 537.0,351.3 537.4,351.4 537.9,350.9 538.4,350.7 538.8,351.0 539.3,350.9 539.7,350.7 540.2,350.9 540.7,350.8 541.1,350.8 541.6,350.7 542.0,350.5 542.5,350.3 543.0,350.5 543.4,350.8 543.9,351.0 544.3,350.9 544.8,351.0 545.3,350.6 545.7,350.2 546.2,350.3 546.6,349.9 547.1,349.2 547.6,347.0 548.0,342.2 548.5,332.4 548.9,314.9 549.4,290.2 549.9,264.0 550.3,246.8 550.8,247.8 551.2,266.3 551.7,292.0 552.2,314.7 552.6,330.2 553.1,339.0 553.5,343.4 554.0,345.4 554.5,346.5 554.9,347.4 555.4,348.1 555.8,348.2 556.3,348.3 556.8,348.4 557.2,348.1 557.7,347.2 558.1,346.5 558.6,345.6 559.1,345.3 559.5,344.9 560.0,344.4 560.4,344.3 560.9,344.3 561.4,344.3 561.8,344.5 562.3,344.8 562.7,345.5 563.2,346.8 563.7,347.6 564.1,348.5 564.6,349.3 565.0,349.6 565.5,350.1 566.0,350.2 566.4,350.4 566.9,350.5 567.3,350.6 567.8,350.9 568.3,350.8 568.7,350.7 569.2,350.9 569.6,350.8 570.1,350.9 570.6,351.0 571.0,350.7 571.5,350.9 571.9,350.6 572.4,350.6 572.9,350.9 573.3,351.2 573.8,351.1 574.2,350.8 574.7,350.8 575.2,350.6 575.6,350.9 576.1,350.5 576.5,349.9 577.0,349.2 577.5,347.5 577.9,344.7 578.4,341.2 578.8,338.5 579.3,337.1 579.8,338.5 580.2,341.3 580.7,344.7 581.1,347.4 581.6,349.3 582.1,350.4 582.5,350.6 583.0,350.8 583.4,351.0 583.9,350.9 584.4,351.0 584.8,351.0 585.3,351.1 585.7,351.0 586.2,350.8 586.7,350.6 587.1,351.0 587.6,351.1 588.0,351.0 588.5,351.2 589.0,351.4 589.4,351.0 589.9,351.2 590.3,351.0 590.8,350.9 591.3,350.8 591.7,350.8 592.2,350.6 592.6,350.4 593.1,350.4 593.6,350.5 594.0,350.5 594.5,350.4 594.9,350.8 595.4,350.8 595.9,350.8 596.3,350.9 596.8,351.2 597.2,350.9 597.7,350.7 598.2,351.0 598.6,351.2 599.1,351.3 599.5,351.1 600.0,350.9 600.5,350.7 600.9,351.0 601.4,351.0 601.8,350.9 602.3,351.0 602.8,350.6 603.2,350.5 603.7,350.3 604.1,349.0 604.6,347.0 605.1,342.8 605.5,336.6 606.0,328.2 606.4,319.4 606.9,313.2 607.4,312.3 607.8,317.5 608.3,325.9 608.7,334.7 609.2,341.5 609.7,346.4 610.1,348.8 610.6,350.0 611.0,350.6 611.5,351.0 612.0,350.9 612.4,350.9 612.9,351.1 613.3,350.9 613.8,351.1 614.3,350.7 614.7,351.0 615.2,351.0 615.6,351.0 616.1,351.3 616.6,351.0 617.0,350.9 617.5,351.1 617.9,351.2 618.4,351.1 618.9,351.2 619.3,351.2 619.8,351.3 620.2,351.3 620.7,351.1 621.2,350.9 621.6,350.7 622.1,350.6 622.5,350.4 623.0,350.9 623.5,350.7 623.9,350.9 624.4,350.7 624.8,351.1 625.3,351.1 625.8,350.8 626.2,351.1 626.7,351.3 627.1,351.4 627.6,351.1 628.1,351.0 628.5,351.1 629.0,350.9 629.4,351.0 629.9,351.1 630.4,351.2 630.8,351.3 631.3,351.3 631.7,351.1 632.2,351.2 632.7,351.1 633.1,350.8 633.6,350.6 634.0,350.8 634.5,350.8 635.0,350.6 635.4,350.8 635.9,350.8 636.3,350.8 636.8,350.9 637.3,351.0 637.7,351.0 638.2,351.3 638.6,351.4 639.1,351.1 639.6,351.3 640.0,351.1 640.5,351.3 640.9,350.9 641.4,350.8 641.9,351.2 642.3,351.2 642.8,351.2 643.2,351.0 643.7,350.7 644.2,351.1 644.6,350.8 645.1,350.7 645.5,350.8 646.0,351.0 646.5,351.1 646.9,351.4 647.4,351.4 647.8,351.2 648.3,351.4 648.8,351.1 649.2,350.8 649.7,351.1 650.1,351.3 650.6,351.3 651.1,351.2 651.5,350.9 652.0,350.8 652.4,350.6 652.9,350.5 653.4,350.7 653.8,351.0 654.3,351.3 654.7,351.2 655.2,351.2 655.7,351.1 656.1,351.2 656.6,351.3 657.0,351.4 657.5,351.5 658.0,351.4 658.4,351.3 658.9,351.0 659.3,351.0 659.8,350.9 660.3,350.8 660.7,350.7 661.2,350.7 661.6,350.6 662.1,350.9 662.6,350.8 663.0,351.2 663.5,351.2 663.9,351.1 664.4,351.0 664.9,351.0 665.3,350.8 665.8,351.1 666.2,351.3 666.7,351.3 667.2,351.3 667.6,350.9 668.1,351.0 668.5,350.8 669.0,350.8 669.5,350.9 669.9,350.7 670.4,350.7 670.8,350.9 671.3,351.0 671.8,351.2 672.2,350.9 672.7,350.7 673.1,351.1 673.6,351.1 674.1,351.2 674.5,351.1 675.0,350.9 675.4,351.2 675.9,351.1 676.4,351.3 676.8,351.0 677.3,350.8 677.7,350.9 678.2,350.8 678.7,351.1 679.1,350.9 679.6,350.7 680.0,350.6 680.5,350.6 681.0,351.0 681.4,351.2 681.9,351.2 682.3,351.1 682.8,350.8 683.3,351.0 683.7,350.8 684.2,350.7 684.6,350.8 685.1,351.1 685.6,350.8 686.0,350.6 686.5,351.0 686.9,350.7 687.4,350.9 687.9,350.7 688.3,350.7 688.8,350.6 689.2,350.7 689.7,351.0 690.2,351.2 690.6,351.1 691.1,350.7 691.5,350.6 692.0,350.5 692.5,350.8 692.9,351.0 693.4,350.5 693.8,350.3 694.3,350.1 694.8,348.5 695.2,345.5 695.7,340.6 696.1,334.0 696.6,326.3 697.1,321.1 697.5,320.3 698.0,325.0 698.4,332.2 698.9,339.6 699.4,345.2 699.8,348.5 700.3,349.9 700.7,350.8 701.2,350.8 701.7,351.1 702.1,351.3 702.6,351.4 703.0,351.0 703.5,350.8 704.0,351.0 704.4,351.2 704.9,350.9 705.3,351.1 705.8,351.0 706.3,350.7 706.7,350.5 707.2,350.4 707.6,350.5 708.1,350.9 708.6,351.0 709.0,351.2 709.5,351.4 709.9,351.1 710.4,351.2 710.9,351.2 711.3,351.2 711.8,350.9 712.2,351.2 712.7,350.9 713.2,350.9 713.6,351.0 714.1,351.2 714.5,351.3 715.0,351.1 715.5,350.9 715.9,351.1 716.4,350.8 716.8,351.1 717.3,350.9 717.8,350.9 718.2,350.8 718.7,351.0 719.1,350.8 719.6,350.7 720.1,350.5 720.5,350.5 721.0,350.8 721.4,351.1 721.9,350.8 722.4,350.8 722.8,350.8 723.3,350.8 723.7,350.8 724.2,350.6 724.7,350.7 725.1,350.7 725.6,350.5 726.0,350.5 726.5,351.0 727.0,351.1 727.4,351.3 727.9,351.4 728.3,351.4 728.8,351.1 729.3,350.8 729.7,351.2 730.2,351.2 730.6,351.3 731.1,350.9 731.6,351.1 732.0,351.1 732.5,350.8 732.9,350.7 733.4,351.1 733.9,351.1 734.3,350.8 734.8,350.6 735.2,350.9 735.7,350.9 736.2,350.9 736.6,350.7 737.1,350.6 737.5,350.8 738.0,350.8 738.5,350.7 738.9,350.6 739.4,350.7 739.8,350.6 740.3,350.5 740.8,350.7 741.2,350.5 741.7,350.9 742.1,351.1 742.6,351.2 743.1,351.4 743.5,351.0 744.0,351.0 744.4,350.9 744.9,350.7 745.4,351.0 745.8,350.7 746.3,351.1 746.7,351.2 747.2,351.4 747.7,351.0 748.1,351.2 748.6,351.4 749.0,351.4 749.5,351.3 750.0,351.3 750.4,351.1 750.9,351.3 751.3,351.2 751.8,351.2 752.3,351.0 752.7,351.1 753.2,351.1 753.6,351.3 754.1,351.4 754.6,351.1 755.0,351.2 755.5,351.0 755.9,351.0 756.4,351.0 756.9,351.1 757.3,350.8 757.8,350.7 758.2,350.6 758.7,350.8 759.2,350.7 759.6,350.9 760.1,351.1 760.5,351.0 761.0,350.9 761.5,351.0 761.9,350.9 762.4,350.9 762.8,350.8 763.3,351.0 763.8,350.9 764.2,351.2 764.7,351.1 765.1,351.2 765.6,351.4 766.1,351.5 766.5,351.0 767.0,351.3 767.4,350.9 767.9,351.2 768.4,351.3 768.8,351.0 769.3,351.1 769.7,351.1 770.2,351.0 770.7,351.1 771.1,351.0 771.6,351.1 772.0,351.2 772.5,350.8 773.0,351.0 773.4,351.1 773.9,351.3 774.3,351.2 774.8,351.1 775.3,350.9 775.7,350.7 776.2,351.1 776.6,350.8 777.1,351.1 777.6,350.8 778.0,350.8 778.5,351.0 778.9,350.7 779.4,350.8 779.9,351.0 780.3,350.9 780.8,350.8 781.2,350.6 781.7,351.0 782.2,350.8 782.6,350.9 783.1,351.0 783.5,350.9 784.0,350.9 784.5,351.0 784.9,350.6 785.4,350.3 785.8,350.2 786.3,349.4 786.8,348.7 787.2,348.1 787.7,348.1 788.1,348.5 788.6,349.1 789.1,349.7 789.5,350.2 790.0,350.3 790.4,350.6 790.9,350.7 791.4,350.9 791.8,350.6 792.3,350.0 792.7,349.2 793.2,348.1 793.7,346.0 794.1,343.8 794.6,341.6 795.0,340.7 795.5,341.4 796.0,343.5 796.4,345.6 796.9,348.1 797.3,349.4 797.8,349.9 798.3,350.3 798.7,350.6 799.2,350.8 799.6,351.1 800.1,350.8 800.6,351.1 801.0,351.3 801.5,351.2 801.9,351.2 802.4,351.0 802.9,350.8 803.3,350.6 803.8,351.0 804.2,351.2 804.7,351.1 805.2,351.1 805.6,351.0 806.1,351.1 806.5,350.8 807.0,351.0" fill="none" stroke="#1f7a22" stroke-width="2.8" stroke-linejoin="round" stroke-linecap="round" />
<polyline points="393.0,434.2 393.5,434.7 393.9,435.0 394.4,435.5 394.8,434.5 395.3,434.1 395.8,433.7 396.2,433.5 396.7,434.4 397.1,433.8 397.6,434.2 398.1,433.8 398.5,433.8 399.0,434.0 399.4,434.8 399.9,434.9 400.4,433.9 400.8,433.8 401.3,433.5 401.7,434.6 402.2,435.2 402.7,435.5 403.1,435.7 403.6,435.7 404.0,436.1 404.5,436.0 405.0,435.0 405.4,435.5 405.9,435.1 406.3,435.4 406.8,435.2 407.3,434.8 407.7,434.5 408.2,434.4 408.6,434.1 409.1,433.6 409.6,434.6 410.0,435.1 410.5,435.8 410.9,435.7 411.4,435.3 411.9,435.5 412.3,434.5 412.8,434.8 413.2,434.6 413.7,434.0 414.2,433.7 414.6,434.1 415.1,433.9 415.5,434.1 416.0,434.5 416.5,434.3 416.9,433.8 417.4,434.1 417.8,433.8 418.3,433.7 418.8,433.5 419.2,433.7 419.7,433.3 420.1,434.1 420.6,435.1 421.1,434.7 421.5,435.1 422.0,435.7 422.4,434.4 422.9,433.8 423.4,434.7 423.8,435.3 424.3,435.2 424.7,434.4 425.2,434.3 425.7,435.1 426.1,435.6 426.6,435.7 427.0,434.7 427.5,435.3 428.0,434.8 428.4,435.1 428.9,434.3 429.3,435.2 429.8,435.2 430.3,435.3 430.7,434.5 431.2,434.8 431.6,434.8 432.1,434.9 432.6,434.5 433.0,435.0 433.5,434.5 433.9,434.2 434.4,433.8 434.9,434.4 435.3,433.8 435.8,433.6 436.2,433.2 436.7,434.0 437.2,434.4 437.6,434.5 438.1,433.7 438.5,434.0 439.0,433.9 439.5,433.5 439.9,433.0 440.4,434.6 440.8,433.9 441.3,433.8 441.8,433.7 442.2,434.2 442.7,433.6 443.1,434.0 443.6,434.0 444.1,434.8 444.5,433.8 445.0,433.9 445.4,434.1 445.9,435.2 446.4,435.0 446.8,434.8 447.3,435.0 447.7,434.5 448.2,433.7 448.7,434.1 449.1,435.0 449.6,435.3 450.0,434.6 450.5,434.9 451.0,435.4 451.4,434.7 451.9,434.8 452.3,434.5 452.8,434.1 453.3,433.9 453.7,433.6 454.2,433.8 454.6,433.3 455.1,433.6 455.6,433.3 456.0,434.3 456.5,434.6 456.9,433.7 457.4,434.5 457.9,434.0 458.3,434.2 458.8,434.5 459.2,434.2 459.7,434.0 460.2,434.1 460.6,433.7 461.1,434.7 461.5,434.0 462.0,434.8 462.5,434.2 462.9,434.0 463.4,434.0 463.8,433.4 464.3,433.2 464.8,433.5 465.2,433.9 465.7,434.8 466.1,435.6 466.6,434.4 467.1,434.5 467.5,433.9 468.0,434.7 468.4,434.4 468.9,435.2 469.4,435.0 469.8,434.2 470.3,433.5 470.7,433.5 471.2,434.6 471.7,434.0 472.1,434.2 472.6,434.1 473.0,434.0 473.5,434.8 474.0,434.2 474.4,434.8 474.9,435.0 475.3,435.6 475.8,435.2 476.3,435.7 476.7,435.2 477.2,435.1 477.6,435.1 478.1,435.5 478.6,435.9 479.0,434.7 479.5,434.0 479.9,434.3 480.4,435.0 480.9,434.9 481.3,434.4 481.8,435.3 482.2,434.7 482.7,433.9 483.2,433.4 483.6,433.0 484.1,434.1 484.5,433.6 485.0,434.4 485.5,435.1 485.9,435.8 486.4,435.9 486.8,435.2 487.3,435.2 487.8,435.6 488.2,435.6 488.7,434.8 489.1,435.2 489.6,434.3 490.1,434.0 490.5,435.2 491.0,434.9 491.4,434.4 491.9,435.0 492.4,434.7 492.8,433.8 493.3,433.3 493.7,433.4 494.2,433.6 494.7,434.8 495.1,434.2 495.6,435.0 496.0,435.5 496.5,435.0 497.0,435.7 497.4,435.7 497.9,435.3 498.3,434.6 498.8,434.5 499.3,435.3 499.7,435.1 500.2,434.3 500.6,434.2 501.1,434.3 501.6,433.9 502.0,434.3 502.5,433.6 502.9,434.6 503.4,434.0 503.9,433.5 504.3,434.1 504.8,434.0 505.2,434.9 505.7,434.8 506.2,434.7 506.6,435.3 507.1,434.5 507.5,435.0 508.0,435.1 508.5,434.8 508.9,435.5 509.4,434.3 509.8,435.1 510.3,434.2 510.8,435.0 511.2,434.2 511.7,433.6 512.1,434.0 512.6,435.0 513.1,434.4 513.5,434.5 514.0,434.7 514.4,434.2 514.9,434.4 515.4,433.6 515.8,433.9 516.3,434.6 516.7,434.3 517.2,433.9 517.7,433.4 518.1,434.2 518.6,434.2 519.0,435.1 519.5,435.3 520.0,434.3 520.4,435.2 520.9,435.7 521.3,435.8 521.8,435.9 522.3,435.7 522.7,435.7 523.2,435.5 523.6,435.3 524.1,434.6 524.6,433.9 525.0,434.6 525.5,434.8 525.9,433.9 526.4,434.4 526.9,434.7 527.3,434.7 527.8,435.1 528.2,435.6 528.7,434.9 529.2,435.2 529.6,434.7 530.1,434.4 530.5,433.7 531.0,434.0 531.5,433.1 531.9,433.6 532.4,433.1 532.8,433.6 533.3,434.6 533.8,434.9 534.2,434.6 534.7,433.8 535.1,434.1 535.6,434.1 536.1,434.7 536.5,434.8 537.0,435.0 537.4,433.8 537.9,432.6 538.4,432.1 538.8,432.2 539.3,431.4 539.7,431.6 540.2,432.0 540.7,432.7 541.1,433.1 541.6,434.6 542.0,434.1 542.5,435.0 543.0,434.5 543.4,433.9 543.9,435.0 544.3,434.1 544.8,433.5 545.3,433.2 545.7,432.9 546.2,433.2 546.6,432.9 547.1,432.2 547.6,430.8 548.0,430.0 548.5,426.7 548.9,423.3 549.4,420.6 549.9,419.3 550.3,419.2 550.8,421.3 551.2,424.6 551.7,428.2 552.2,431.4 552.6,432.3 553.1,432.6 553.5,433.8 554.0,434.2 554.5,434.4 554.9,434.9 555.4,434.2 555.8,434.7 556.3,434.5 556.8,434.3 557.2,433.9 557.7,433.7 558.1,434.0 558.6,434.1 559.1,434.6 559.5,433.5 560.0,433.5 560.4,432.1 560.9,432.0 561.4,431.1 561.8,431.8 562.3,432.7 562.7,432.2 563.2,433.2 563.7,433.0 564.1,433.1 564.6,433.0 565.0,433.5 565.5,433.2 566.0,434.1 566.4,434.5 566.9,434.4 567.3,434.8 567.8,434.2 568.3,434.1 568.7,434.0 569.2,433.3 569.6,434.5 570.1,433.8 570.6,433.4 571.0,434.4 571.5,435.0 571.9,434.8 572.4,434.5 572.9,433.9 573.3,433.3 573.8,433.8 574.2,433.6 574.7,433.4 575.2,434.5 575.6,433.6 576.1,433.6 576.5,434.0 577.0,434.0 577.5,432.4 577.9,432.2 578.4,431.6 578.8,431.5 579.3,432.4 579.8,433.2 580.2,433.7 580.7,434.5 581.1,434.6 581.6,434.8 582.1,435.3 582.5,435.2 583.0,434.8 583.4,433.8 583.9,434.6 584.4,434.3 584.8,434.3 585.3,434.0 585.7,434.3 586.2,434.3 586.7,435.0 587.1,435.0 587.6,434.9 588.0,435.2 588.5,434.7 589.0,434.4 589.4,434.4 589.9,434.3 590.3,434.1 590.8,434.3 591.3,434.0 591.7,434.1 592.2,433.6 592.6,433.5 593.1,433.9 593.6,434.2 594.0,435.1 594.5,434.0 594.9,434.0 595.4,434.6 595.9,434.3 596.3,434.7 596.8,433.6 597.2,433.8 597.7,433.3 598.2,433.3 598.6,432.5 599.1,432.9 599.5,434.0 600.0,434.7 600.5,434.8 600.9,434.6 601.4,433.8 601.8,434.4 602.3,434.4 602.8,434.9 603.2,434.9 603.7,434.6 604.1,435.2 604.6,434.1 605.1,434.7 605.5,433.2 606.0,433.5 606.4,432.6 606.9,431.6 607.4,432.0 607.8,431.9 608.3,432.4 608.7,432.3 609.2,433.7 609.7,434.4 610.1,434.1 610.6,433.6 611.0,433.9 611.5,434.9 612.0,435.5 612.4,435.0 612.9,434.0 613.3,434.8 613.8,434.2 614.3,434.8 614.7,434.7 615.2,435.5 615.6,434.5 616.1,435.1 616.6,435.3 617.0,434.1 617.5,434.4 617.9,434.1 618.4,434.7 618.9,435.5 619.3,435.4 619.8,435.1 620.2,435.1 620.7,434.4 621.2,434.4 621.6,433.8 622.1,434.5 622.5,433.8 623.0,434.1 623.5,433.7 623.9,434.2 624.4,433.6 624.8,433.1 625.3,433.9 625.8,434.6 626.2,435.3 626.7,435.3 627.1,435.9 627.6,434.8 628.1,434.9 628.5,435.0 629.0,434.3 629.4,433.8 629.9,433.6 630.4,434.1 630.8,434.8 631.3,435.1 631.7,435.0 632.2,434.1 632.7,434.7 633.1,434.7 633.6,434.0 634.0,434.5 634.5,434.1 635.0,433.9 635.4,434.1 635.9,434.8 636.3,434.0 636.8,434.1 637.3,433.8 637.7,434.4 638.2,435.1 638.6,434.5 639.1,434.9 639.6,434.7 640.0,434.2 640.5,433.9 640.9,434.3 641.4,434.9 641.9,435.0 642.3,433.9 642.8,434.7 643.2,434.8 643.7,434.6 644.2,434.1 644.6,434.2 645.1,434.7 645.5,434.2 646.0,433.7 646.5,434.8 646.9,434.6 647.4,433.8 647.8,434.8 648.3,434.0 648.8,434.0 649.2,434.5 649.7,434.8 650.1,435.4 650.6,434.5 651.1,434.7 651.5,435.3 652.0,435.0 652.4,435.2 652.9,434.9 653.4,435.2 653.8,435.8 654.3,435.0 654.7,435.3 655.2,434.7 655.7,435.4 656.1,435.5 656.6,435.8 657.0,436.0 657.5,435.6 658.0,436.0 658.4,434.8 658.9,434.9 659.3,434.0 659.8,434.4 660.3,434.8 660.7,434.3 661.2,435.0 661.6,434.7 662.1,434.1 662.6,433.7 663.0,434.2 663.5,434.2 663.9,433.5 664.4,433.6 664.9,434.8 665.3,434.7 665.8,435.0 666.2,434.7 666.7,433.9 667.2,434.4 667.6,433.9 668.1,433.5 668.5,434.2 669.0,434.6 669.5,433.7 669.9,434.9 670.4,433.9 670.8,433.6 671.3,433.7 671.8,434.6 672.2,435.0 672.7,435.3 673.1,434.9 673.6,435.5 674.1,434.5 674.5,435.3 675.0,434.2 675.4,433.7 675.9,434.5 676.4,435.0 676.8,435.2 677.3,434.5 677.7,435.2 678.2,435.0 678.7,434.3 679.1,433.7 679.6,434.9 680.0,434.0 680.5,433.7 681.0,433.8 681.4,434.8 681.9,435.3 682.3,435.6 682.8,435.4 683.3,434.2 683.7,434.8 684.2,434.1 684.6,435.1 685.1,435.7 685.6,434.5 686.0,434.9 686.5,434.3 686.9,433.7 687.4,434.7 687.9,434.5 688.3,434.1 688.8,434.4 689.2,433.6 689.7,433.8 690.2,434.3 690.6,435.0 691.1,434.1 691.5,434.9 692.0,433.9 692.5,433.5 692.9,433.4 693.4,433.0 693.8,432.6 694.3,433.0 694.8,431.9 695.2,428.5 695.7,422.5 696.1,411.0 696.6,397.0 697.1,384.1 697.5,377.2 698.0,381.2 698.4,392.8 698.9,405.6 699.4,415.4 699.8,420.8 700.3,424.0 700.7,426.8 701.2,428.5 701.7,429.3 702.1,430.3 702.6,432.5 703.0,433.0 703.5,434.2 704.0,434.5 704.4,434.7 704.9,434.4 705.3,434.5 705.8,434.4 706.3,434.4 706.7,435.3 707.2,434.2 707.6,433.8 708.1,434.8 708.6,435.5 709.0,435.7 709.5,435.9 709.9,434.6 710.4,435.0 710.9,434.1 711.3,434.9 711.8,434.6 712.2,434.6 712.7,434.6 713.2,434.0 713.6,434.4 714.1,435.1 714.5,434.8 715.0,434.6 715.5,434.3 715.9,433.9 716.4,433.8 716.8,434.7 717.3,435.5 717.8,434.9 718.2,434.4 718.7,434.2 719.1,435.0 719.6,434.4 720.1,433.9 720.5,433.8 721.0,433.4 721.4,433.2 721.9,433.3 722.4,434.1 722.8,435.1 723.3,434.4 723.7,434.1 724.2,434.5 724.7,433.7 725.1,433.3 725.6,433.9 726.0,434.1 726.5,434.0 727.0,434.1 727.4,433.4 727.9,433.5 728.3,433.3 728.8,433.4 729.3,433.1 729.7,434.3 730.2,433.5 730.6,433.8 731.1,433.5 731.6,433.4 732.0,434.4 732.5,435.3 732.9,435.8 733.4,435.0 733.9,434.9 734.3,434.7 734.8,433.9 735.2,434.0 735.7,434.5 736.2,434.3 736.6,434.9 737.1,434.7 737.5,434.3 738.0,435.1 738.5,435.0 738.9,434.4 739.4,435.2 739.8,434.9 740.3,435.0 740.8,434.8 741.2,435.3 741.7,435.5 742.1,435.0 742.6,434.6 743.1,435.1 743.5,435.5 744.0,435.3 744.4,435.7 744.9,435.3 745.4,434.9 745.8,434.4 746.3,434.1 746.7,433.7 747.2,434.8 747.7,434.8 748.1,434.0 748.6,433.7 749.0,433.9 749.5,434.7 750.0,435.3 750.4,435.5 750.9,434.8 751.3,434.6 751.8,435.4 752.3,434.9 752.7,435.0 753.2,434.0 753.6,434.2 754.1,434.4 754.6,435.2 755.0,435.8 755.5,435.8 755.9,435.0 756.4,435.5 756.9,435.9 757.3,434.6 757.8,434.5 758.2,434.6 758.7,434.3 759.2,433.9 759.6,434.7 760.1,434.1 760.5,434.4 761.0,433.6 761.5,433.9 761.9,435.0 762.4,434.0 762.8,433.5 763.3,434.7 763.8,435.4 764.2,435.1 764.7,434.5 765.1,434.2 765.6,434.8 766.1,434.8 766.5,434.6 767.0,435.0 767.4,434.1 767.9,434.1 768.4,435.0 768.8,435.6 769.3,435.2 769.7,435.4 770.2,435.8 770.7,435.4 771.1,434.4 771.6,433.8 772.0,434.4 772.5,434.2 773.0,434.4 773.4,433.7 773.9,434.8 774.3,434.3 774.8,434.7 775.3,434.9 775.7,434.5 776.2,434.0 776.6,434.4 777.1,434.1 777.6,433.6 778.0,433.4 778.5,433.0 778.9,434.4 779.4,433.9 779.9,435.0 780.3,435.0 780.8,435.7 781.2,435.2 781.7,434.5 782.2,433.8 782.6,434.3 783.1,434.8 783.5,435.0 784.0,435.6 784.5,434.5 784.9,434.8 785.4,435.1 785.8,435.7 786.3,434.8 786.8,435.5 787.2,434.3 787.7,434.5 788.1,434.2 788.6,434.4 789.1,433.8 789.5,433.8 790.0,433.7 790.4,433.7 790.9,433.5 791.4,432.8 791.8,432.2 792.3,432.2 792.7,433.2 793.2,433.5 793.7,432.6 794.1,433.1 794.6,432.7 795.0,433.0 795.5,434.4 796.0,434.2 796.4,433.6 796.9,434.1 797.3,434.5 797.8,434.5 798.3,435.4 798.7,435.1 799.2,434.6 799.6,434.1 800.1,434.4 800.6,434.9 801.0,434.8 801.5,434.5 801.9,434.1 802.4,434.9 802.9,435.7 803.3,435.4 803.8,435.5 804.2,434.8 804.7,434.1 805.2,433.5 805.6,434.1 806.1,435.1 806.5,435.2 807.0,435.3" fill="none" stroke="#111" stroke-width="2.7" stroke-linejoin="round" stroke-linecap="round" />
<rect x="546.0" y="39.0" width="13" height="12" fill="#e00000"/>
<circle cx="550.0" cy="62.5" r="6.3" fill="none" stroke="#6f8f7c" stroke-width="1.3"/><circle cx="550.0" cy="62.5" r="2.8" fill="none" stroke="#6f8f7c" stroke-width="1.2"/>
<rect x="601.0" y="145.0" width="13" height="12" fill="#e00000"/>
<circle cx="604.6" cy="169.8" r="6.3" fill="none" stroke="#6f8f7c" stroke-width="1.3"/><circle cx="604.6" cy="169.8" r="2.8" fill="none" stroke="#6f8f7c" stroke-width="1.2"/>
<circle cx="444.1" cy="177.4" r="6.4" fill="#0a0ad8"/>
<circle cx="559.5" cy="190.8" r="6.4" fill="#0a0ad8"/>
<circle cx="652.0" cy="195.6" r="6.4" fill="#0a0ad8"/>
<circle cx="711.5" cy="197.7" r="6.4" fill="#0a0ad8"/>
<circle cx="791.3" cy="201.6" r="6.4" fill="#0a0ad8"/>
<rect x="577.2" y="192.8" width="11.4" height="11.4" fill="none" stroke="#3a3a3a" stroke-width="1.6"/>
<rect x="691.0" y="151.6" width="11.4" height="11.4" fill="none" stroke="#3a3a3a" stroke-width="1.6"/>
<rect x="546.2" y="229.0" width="13" height="12" fill="#e00000"/>
<rect x="599.5" y="282.5" width="13" height="12" fill="#e00000"/>
<rect x="571.8" y="315.8" width="11.4" height="11.4" fill="none" stroke="#3a3a3a" stroke-width="1.6"/>
<rect x="694.3" y="294.3" width="11.4" height="11.4" fill="none" stroke="#3a3a3a" stroke-width="1.6"/>
<rect x="544.4" y="397.6" width="11.4" height="11.4" fill="none" stroke="#3a3a3a" stroke-width="1.6"/>
<rect x="575.8" y="407.0" width="11.4" height="11.4" fill="none" stroke="#3a3a3a" stroke-width="1.6"/>
<rect x="691.1" y="358.8" width="11.4" height="11.4" fill="none" stroke="#3a3a3a" stroke-width="1.6"/>
<text x="371" y="42" font-size="30" text-anchor="middle" fill="#111" stroke="#111" stroke-width="0.35">(b)</text>
<text x="493" y="38" font-size="20" fill="#b0141e" stroke="#b0141e" stroke-width="0.35">TiO</text>
<text x="533" y="36.5" font-size="16.8" fill="#7e3232" stroke="#7e3232" stroke-width="0.35">(111)</text>
<text x="579.4" y="39.3" font-size="18.7" fill="#237a2a" stroke="#237a2a" stroke-width="0.35">TiN</text>
<text x="420" y="116" font-size="20" fill="#1c1c7a" stroke="#1c1c7a" stroke-width="0.35">TiO</text><text x="454" y="124.5" font-size="13" fill="#1c1c7a" stroke="#1c1c7a" stroke-width="0.35">2</text>
<text x="442.6" y="158.5" font-size="16.5" text-anchor="middle" fill="#1c1c7a" stroke="#1c1c7a" stroke-width="0.35">(101)</text>
<text x="570.2" y="167" font-size="16.5" text-anchor="middle" fill="#1c1c7a" stroke="#1c1c7a" stroke-width="0.35">(004)</text>
<text x="652" y="166.8" font-size="16.5" text-anchor="middle" fill="#1c1c7a" stroke="#1c1c7a" stroke-width="0.35">(200)</text>
<text x="724.5" y="184" font-size="16.5" text-anchor="middle" fill="#1c1c7a" stroke="#1c1c7a" stroke-width="0.35">(105)</text>
<text x="790.8" y="174" font-size="16.5" text-anchor="middle" fill="#1c1c7a" stroke="#1c1c7a" stroke-width="0.35">(204)</text>
<text x="611" y="131.3" font-size="16.5" text-anchor="middle" fill="#a03232" stroke="#a03232" stroke-width="0.35">(200)</text>
<text x="696" y="108.7" font-size="20" text-anchor="middle" fill="#111" stroke="#111" stroke-width="0.35">Ti</text>
<text x="694.2" y="131.2" font-size="16.8" text-anchor="middle" fill="#111" stroke="#111" stroke-width="0.35">(102)</text>
<text x="460.4" y="208.7" font-size="20" fill="#111" stroke="#111" stroke-width="0.35">annealed</text>
<text x="402.6" y="340.7" font-size="20" fill="#111" stroke="#111" stroke-width="0.35">as-anodized</text>
<text x="414.5" y="424.3" font-size="20" fill="#111" stroke="#111" stroke-width="0.35">Ti</text>
<text x="537.8" y="388.5" font-size="16.5" text-anchor="middle" fill="#111" stroke="#111" stroke-width="0.35">(100)</text>
<text x="581" y="388.5" font-size="16.5" text-anchor="middle" fill="#111" stroke="#111" stroke-width="0.35">(101)</text>
<text x="774.5" y="407" font-size="19.5" text-anchor="middle" fill="#111" stroke="#111" stroke-width="0.35">(a)</text>
<text x="393.0" y="460" font-size="16" text-anchor="middle" fill="#111" stroke="#111" stroke-width="0.35">20</text>
<text x="485.0" y="460" font-size="16" text-anchor="middle" fill="#111" stroke="#111" stroke-width="0.35">30</text>
<text x="577.0" y="460" font-size="16" text-anchor="middle" fill="#111" stroke="#111" stroke-width="0.35">40</text>
<text x="669.0" y="460" font-size="16" text-anchor="middle" fill="#111" stroke="#111" stroke-width="0.35">50</text>
<text x="761.0" y="460" font-size="16" text-anchor="middle" fill="#111" stroke="#111" stroke-width="0.35">60</text>
<text x="595.5" y="497" font-size="28" text-anchor="middle" fill="#111" stroke="#111" stroke-width="0.35">2θ / Degree</text>
<text transform="translate(374.5,194.5) rotate(-90)" font-size="27.5" text-anchor="middle" fill="#111" stroke="#111" stroke-width="0.35">Intensity(a.u.)</text>
<line x1="895.6" y1="18" x2="895.6" y2="437" stroke="#999" stroke-width="1.2"/>
<line x1="982.8" y1="18" x2="982.8" y2="437" stroke="#999" stroke-width="1.2"/>
<line x1="1070.0" y1="18" x2="1070.0" y2="437" stroke="#999" stroke-width="1.2"/>
<line x1="1157.2" y1="18" x2="1157.2" y2="437" stroke="#999" stroke-width="1.2"/>
<line x1="1244.4" y1="18" x2="1244.4" y2="437" stroke="#999" stroke-width="1.2"/>
<line x1="852" y1="106.0" x2="1267" y2="106.0" stroke="#999" stroke-width="1.2"/>
<line x1="852" y1="194.0" x2="1267" y2="194.0" stroke="#999" stroke-width="1.2"/>
<line x1="852" y1="282.5" x2="1267" y2="282.5" stroke="#999" stroke-width="1.2"/>
<line x1="852" y1="371.0" x2="1267" y2="371.0" stroke="#999" stroke-width="1.2"/>
<line x1="873.8" y1="18" x2="873.8" y2="22" stroke="#555" stroke-width="1.5"/>
<line x1="873.8" y1="437" x2="873.8" y2="433" stroke="#555" stroke-width="1.5"/>
<line x1="895.6" y1="18" x2="895.6" y2="22" stroke="#555" stroke-width="1.5"/>
<line x1="895.6" y1="437" x2="895.6" y2="433" stroke="#555" stroke-width="1.5"/>
<line x1="917.4" y1="18" x2="917.4" y2="22" stroke="#555" stroke-width="1.5"/>
<line x1="917.4" y1="437" x2="917.4" y2="433" stroke="#555" stroke-width="1.5"/>
<line x1="939.2" y1="18" x2="939.2" y2="22" stroke="#555" stroke-width="1.5"/>
<line x1="939.2" y1="437" x2="939.2" y2="433" stroke="#555" stroke-width="1.5"/>
<line x1="961.0" y1="18" x2="961.0" y2="22" stroke="#555" stroke-width="1.5"/>
<line x1="961.0" y1="437" x2="961.0" y2="433" stroke="#555" stroke-width="1.5"/>
<line x1="982.8" y1="18" x2="982.8" y2="22" stroke="#555" stroke-width="1.5"/>
<line x1="982.8" y1="437" x2="982.8" y2="433" stroke="#555" stroke-width="1.5"/>
<line x1="1004.6" y1="18" x2="1004.6" y2="22" stroke="#555" stroke-width="1.5"/>
<line x1="1004.6" y1="437" x2="1004.6" y2="433" stroke="#555" stroke-width="1.5"/>
<line x1="1026.4" y1="18" x2="1026.4" y2="22" stroke="#555" stroke-width="1.5"/>
<line x1="1026.4" y1="437" x2="1026.4" y2="433" stroke="#555" stroke-width="1.5"/>
<line x1="1048.2" y1="18" x2="1048.2" y2="22" stroke="#555" stroke-width="1.5"/>
<line x1="1048.2" y1="437" x2="1048.2" y2="433" stroke="#555" stroke-width="1.5"/>
<line x1="1070.0" y1="18" x2="1070.0" y2="22" stroke="#555" stroke-width="1.5"/>
<line x1="1070.0" y1="437" x2="1070.0" y2="433" stroke="#555" stroke-width="1.5"/>
<line x1="1091.8" y1="18" x2="1091.8" y2="22" stroke="#555" stroke-width="1.5"/>
<line x1="1091.8" y1="437" x2="1091.8" y2="433" stroke="#555" stroke-width="1.5"/>
<line x1="1113.6" y1="18" x2="1113.6" y2="22" stroke="#555" stroke-width="1.5"/>
<line x1="1113.6" y1="437" x2="1113.6" y2="433" stroke="#555" stroke-width="1.5"/>
<line x1="1135.4" y1="18" x2="1135.4" y2="22" stroke="#555" stroke-width="1.5"/>
<line x1="1135.4" y1="437" x2="1135.4" y2="433" stroke="#555" stroke-width="1.5"/>
<line x1="1157.2" y1="18" x2="1157.2" y2="22" stroke="#555" stroke-width="1.5"/>
<line x1="1157.2" y1="437" x2="1157.2" y2="433" stroke="#555" stroke-width="1.5"/>
<line x1="1179.0" y1="18" x2="1179.0" y2="22" stroke="#555" stroke-width="1.5"/>
<line x1="1179.0" y1="437" x2="1179.0" y2="433" stroke="#555" stroke-width="1.5"/>
<line x1="1200.8" y1="18" x2="1200.8" y2="22" stroke="#555" stroke-width="1.5"/>
<line x1="1200.8" y1="437" x2="1200.8" y2="433" stroke="#555" stroke-width="1.5"/>
<line x1="1222.6" y1="18" x2="1222.6" y2="22" stroke="#555" stroke-width="1.5"/>
<line x1="1222.6" y1="437" x2="1222.6" y2="433" stroke="#555" stroke-width="1.5"/>
<line x1="1244.4" y1="18" x2="1244.4" y2="22" stroke="#555" stroke-width="1.5"/>
<line x1="1244.4" y1="437" x2="1244.4" y2="433" stroke="#555" stroke-width="1.5"/>
<line x1="1266.2" y1="18" x2="1266.2" y2="22" stroke="#555" stroke-width="1.5"/>
<line x1="1266.2" y1="437" x2="1266.2" y2="433" stroke="#555" stroke-width="1.5"/>
<rect x="852" y="17.7" width="414.5" height="419.5" fill="none" stroke="#5a5a5a" stroke-width="1.5"/>
<line x1="923.8" y1="91.8" x2="923.8" y2="437" stroke="#111" stroke-width="2" stroke-dasharray="10 8.7"/>
<line x1="1004.4" y1="159.8" x2="1004.4" y2="437" stroke="#111" stroke-width="2" stroke-dasharray="10 8.7"/>
<line x1="1152.3" y1="234.7" x2="1152.3" y2="437" stroke="#111" stroke-width="2" stroke-dasharray="10 8.7"/>
<polyline points="852.0,291.0 855.0,288.0 858.0,289.5 861.5,284.6 864.0,284.4 866.5,286.2 869.8,289.5 873.0,284.6 875.5,283.8 878.0,286.2 881.3,281.3 884.6,276.4 887.9,274.7 891.2,266.5 894.5,260.0 897.8,250.0 901.0,218.3 904.3,215.0 907.6,192.0 910.1,177.0 912.6,159.0 915.0,141.1 917.5,121.0 920.0,118.3 922.5,113.0 926.4,99.8 929.0,92.5 931.0,94.0 933.0,93.0 935.0,108.0 937.0,107.4 939.0,109.6 941.6,113.0 945.5,132.7 948.8,155.8 952.0,159.0 955.4,172.0 958.7,192.0 961.2,192.1 963.6,195.3 966.1,202.6 968.6,211.7 971.9,208.5 974.3,210.1 976.8,210.0 979.3,210.8 981.8,208.5 984.2,206.5 986.7,202.0 988.3,192.5 991.6,184.2 994.9,181.0 997.3,175.4 999.8,172.7 1003.1,176.0 1006.4,177.6 1009.7,185.9 1013.0,190.8 1016.3,200.7 1019.6,208.9 1022.9,215.5 1026.2,218.8 1029.5,232.0 1032.8,245.2 1036.0,250.0 1039.3,253.4 1042.6,248.5 1046.0,255.0 1049.2,265.0 1051.7,266.7 1054.2,266.6 1056.6,268.5 1059.0,268.0 1061.5,272.9 1064.0,274.8 1066.5,279.1 1069.0,281.4 1072.3,271.5 1075.6,278.0 1078.0,278.9 1080.5,276.5 1083.0,280.6 1085.5,281.4 1088.0,279.8 1090.4,276.5 1092.8,279.8 1095.3,281.4 1097.8,281.0 1100.3,278.0 1102.8,280.5 1105.2,279.7 1107.7,278.4 1110.2,274.8 1112.7,279.1 1115.1,281.4 1117.5,280.9 1120.0,278.0 1122.5,278.5 1125.0,277.3 1127.5,277.5 1130.0,275.6 1132.4,278.5 1134.8,279.0 1137.3,276.9 1139.8,272.3 1142.2,274.2 1144.7,274.0 1147.2,272.5 1149.7,269.0 1152.2,270.9 1154.6,270.7 1157.1,272.7 1159.6,272.3 1162.0,270.9 1164.5,267.4 1167.0,270.7 1169.5,272.3 1172.0,272.2 1174.4,269.0 1176.8,272.8 1179.3,274.0 1181.8,274.5 1184.3,272.3 1186.8,271.7 1189.2,269.0 1191.7,273.2 1194.2,274.0 1196.7,272.3 1199.1,267.4 1201.5,270.0 1204.0,270.7 1206.5,274.3 1209.0,275.6 1211.5,274.6 1214.0,270.7 1216.5,274.6 1219.0,275.6 1221.5,275.6 1223.9,272.3 1226.3,275.2 1228.8,275.6 1231.2,273.9 1233.7,269.0 1236.2,275.4 1238.7,279.0 1241.2,277.6 1243.6,274.0 1246.1,276.1 1248.6,275.6 1251.0,275.6 1253.5,272.3 1256.0,275.5 1258.5,275.6 1261.0,273.6 1263.4,269.0 1266.7,279.0" fill="none" stroke="#b4161e" stroke-width="2.9" stroke-linejoin="round" stroke-linecap="round" />
<polyline points="852.0,319.0 854.3,321.6 856.6,320.8 859.0,317.6 861.5,311.0 864.8,319.0 868.1,314.2 870.5,317.5 873.0,319.0 875.5,318.4 878.0,315.9 880.5,314.2 883.0,309.3 886.2,307.6 888.7,304.5 891.2,304.3 893.6,297.1 896.0,292.8 899.4,283.0 902.7,266.5 906.0,253.3 908.2,242.7 910.4,228.6 912.6,218.3 915.8,205.4 919.0,195.3 921.3,192.9 923.5,194.1 925.8,192.0 929.0,189.6 932.3,184.7 934.3,189.5 936.3,192.0 939.2,201.7 942.2,208.5 945.5,215.0 948.0,216.6 950.5,221.6 953.0,221.6 955.4,225.0 957.8,228.6 960.3,234.8 962.8,238.5 965.3,244.7 967.5,245.4 969.7,249.1 971.9,250.0 975.0,248.9 978.0,246.0 980.3,244.8 982.7,239.9 985.0,238.6 988.3,233.6 991.6,228.7 995.0,222.0 998.2,225.4 1001.5,218.8 1004.8,222.0 1007.4,215.5 1010.7,225.4 1014.6,235.3 1018.0,241.9 1021.2,248.5 1023.7,252.9 1026.2,255.0 1028.6,258.2 1031.0,258.2 1034.4,269.8 1037.7,279.6 1040.2,282.6 1042.6,283.0 1045.1,287.6 1047.6,289.5 1050.9,287.9 1054.2,296.0 1057.5,292.8 1060.8,299.4 1063.2,306.3 1065.7,311.0 1068.2,307.7 1070.6,302.7 1073.1,306.3 1075.6,307.6 1078.0,310.3 1080.5,311.0 1083.0,311.4 1085.5,309.3 1088.0,315.9 1090.4,319.2 1092.8,315.7 1095.3,309.3 1098.6,314.2 1101.1,309.9 1103.6,307.6 1106.0,308.5 1108.5,312.6 1111.0,312.7 1113.5,315.9 1116.0,310.3 1118.4,307.6 1122.0,311.0 1124.3,310.6 1126.6,307.0 1128.8,310.2 1131.0,308.8 1133.2,312.0 1135.4,309.7 1137.6,311.4 1139.8,308.6 1142.0,310.8 1144.2,308.7 1146.4,310.2 1148.6,307.1 1150.8,308.4 1153.0,305.3 1155.5,309.0 1158.0,310.2 1160.5,309.9 1162.9,307.0 1165.3,309.9 1167.8,310.2 1170.3,310.2 1172.8,307.0 1175.2,309.1 1177.7,308.6 1180.2,308.5 1182.6,305.3 1184.8,307.6 1187.0,305.9 1189.2,308.6 1191.4,308.1 1193.6,312.1 1195.8,312.0 1198.3,310.8 1200.8,307.0 1203.2,310.2 1205.7,310.2 1207.9,310.6 1210.1,306.8 1212.3,307.0 1214.5,307.0 1216.7,310.3 1218.9,310.2 1221.4,308.3 1223.9,303.6 1226.3,302.1 1228.8,298.7 1232.0,308.6 1234.5,306.2 1237.0,307.0 1239.2,306.5 1241.4,309.7 1243.6,308.6 1245.8,310.2 1248.0,308.0 1250.2,310.2 1252.4,308.7 1254.6,311.5 1256.8,310.2 1259.3,313.1 1261.8,313.5 1264.2,316.6 1266.7,316.8" fill="none" stroke="#10109e" stroke-width="2.9" stroke-linejoin="round" stroke-linecap="round" />
<polyline points="852.0,343.9 854.3,347.4 856.6,348.8 859.0,349.3 861.5,347.2 864.8,342.2 867.3,342.7 869.8,345.5 872.2,342.5 874.7,342.2 877.2,344.1 879.6,348.8 883.0,339.0 886.2,335.6 889.5,343.9 892.8,342.2 896.0,329.0 899.4,319.2 901.8,315.0 904.3,312.6 907.6,299.4 911.0,292.8 913.5,287.0 915.9,282.9 919.2,271.4 922.5,278.0 926.4,276.4 928.5,278.0 930.7,276.4 934.0,281.3 937.3,297.8 940.6,299.4 943.0,297.5 945.5,297.8 948.0,298.4 950.5,301.0 952.6,302.6 954.7,307.6 956.7,303.9 958.7,302.7 961.2,300.3 963.6,301.0 966.1,298.1 968.6,297.8 971.0,294.8 973.5,294.5 976.8,291.9 980.0,291.2 982.5,287.3 985.0,286.2 987.5,280.5 990.0,278.0 993.2,274.2 996.5,273.0 999.8,269.0 1003.0,268.0 1005.5,268.3 1008.0,271.4 1010.2,270.5 1012.4,272.9 1014.6,271.4 1018.0,278.0 1021.2,286.2 1023.7,289.2 1026.2,289.5 1028.6,293.1 1031.0,294.5 1033.5,299.5 1036.0,302.7 1038.5,308.4 1041.0,311.0 1044.3,315.9 1046.8,317.1 1049.2,320.8 1052.5,327.4 1055.0,330.5 1057.5,330.7 1060.0,333.1 1062.4,332.3 1064.6,336.0 1066.8,335.1 1069.0,339.0 1071.5,338.6 1074.0,340.6 1077.2,338.3 1080.5,339.0 1083.8,338.6 1087.0,340.6 1089.2,339.5 1091.5,343.3 1093.7,342.2 1095.9,343.7 1098.1,342.4 1100.3,343.9 1102.8,341.2 1105.2,340.6 1107.7,336.4 1110.2,335.6 1112.7,336.9 1115.1,340.6 1117.5,337.6 1120.0,337.3 1122.2,336.5 1124.4,339.2 1126.6,338.3 1128.8,340.0 1131.0,338.3 1133.2,340.0 1135.4,337.5 1137.6,339.1 1139.8,336.6 1142.0,338.8 1144.2,336.3 1146.4,338.3 1148.8,333.4 1151.3,331.7 1153.0,328.4 1155.5,331.6 1158.0,331.7 1160.5,335.0 1162.9,335.0 1165.1,337.0 1167.3,335.1 1169.5,336.6 1172.8,334.2 1176.0,335.0 1178.2,334.4 1180.4,338.8 1182.6,338.3 1184.8,339.1 1187.0,335.7 1189.2,336.6 1191.4,336.7 1193.6,340.4 1195.8,340.0 1198.0,341.3 1200.2,338.9 1202.4,340.0 1204.6,338.5 1206.8,340.4 1209.0,338.3 1211.2,341.1 1213.4,339.6 1215.6,341.6 1217.8,339.0 1220.0,340.6 1222.2,338.3 1224.4,340.4 1226.6,339.4 1228.8,341.6 1231.0,339.6 1233.2,342.1 1235.4,340.0 1237.6,341.4 1239.8,339.7 1242.0,341.6 1244.2,339.6 1246.4,340.9 1248.6,338.3 1250.8,340.5 1253.0,338.9 1255.2,341.6 1257.4,339.4 1259.6,341.8 1261.8,340.0 1264.2,343.3 1266.7,343.2" fill="none" stroke="#1b7626" stroke-width="2.9" stroke-linejoin="round" stroke-linecap="round" />
<polyline points="864.8,411.4 867.3,410.7 869.8,408.1 872.2,411.4 874.7,413.0 877.8,416.0 881.3,414.7 883.5,415.2 885.7,412.7 887.9,413.0 890.3,413.9 892.8,416.3 894.8,416.0 896.7,417.8 899.0,416.9 901.3,420.3 903.6,419.5 906.2,424.3 908.8,426.4 912.2,412.7 915.9,413.0 918.3,416.4 920.8,418.0 922.5,419.5 925.8,408.1 929.0,410.1 932.3,409.7 934.5,410.1 936.8,407.7 939.0,408.0 941.9,405.2 944.8,404.0 946.8,398.6 948.8,395.0 951.0,392.4 953.2,394.1 955.4,391.6 957.8,388.1 960.3,381.8 963.6,371.9 966.1,363.9 968.6,358.7 971.0,351.2 973.5,345.5 976.8,335.6 979.3,331.7 981.8,325.8 985.0,315.9 987.5,308.9 990.0,304.3 992.5,299.8 994.9,297.8 997.3,293.9 999.8,292.8 1002.1,302.7 1004.0,289.5 1006.4,294.5 1009.7,292.8 1013.0,299.4 1015.5,305.8 1018.0,309.3 1020.5,315.1 1022.9,319.2 1025.3,327.0 1027.8,332.3 1030.3,341.8 1032.8,348.8 1035.2,354.9 1037.7,358.7 1040.2,366.2 1042.6,371.9 1045.1,375.5 1047.6,376.8 1050.9,385.0 1053.3,388.3 1055.8,393.3 1058.3,393.5 1060.8,396.6 1064.0,396.9 1067.3,399.9 1069.8,400.4 1072.3,403.2 1074.8,403.9 1077.2,406.5 1079.4,405.6 1081.6,408.7 1083.8,408.1 1086.0,409.5 1088.2,406.7 1090.4,408.1 1092.8,402.9 1095.3,399.9 1098.6,395.0 1101.1,394.4 1103.6,391.6 1106.0,389.5 1108.5,385.0 1110.0,386.8 1112.0,381.6 1114.0,378.6 1116.8,370.5 1119.5,362.4 1122.2,358.3 1125.0,354.2 1127.6,346.1 1130.3,338.0 1133.0,332.5 1135.8,321.7 1138.5,310.8 1141.2,301.4 1143.0,292.0 1145.5,284.7 1148.0,275.6 1151.3,269.0 1154.6,269.0 1158.0,274.0 1161.2,279.0 1164.5,288.8 1167.8,298.7 1171.0,310.8 1173.0,318.0 1175.0,327.1 1177.1,333.9 1179.2,343.4 1181.2,350.8 1183.2,359.7 1185.9,367.1 1188.6,376.0 1190.7,376.8 1192.7,380.0 1194.8,382.4 1196.8,386.8 1198.8,389.7 1200.8,395.0 1203.6,400.3 1205.6,402.1 1207.6,401.7 1210.3,407.1 1212.3,404.7 1214.4,404.4 1217.1,408.5 1219.2,408.6 1221.2,405.8 1224.0,411.2 1226.0,408.3 1228.0,407.1 1230.7,413.9 1232.7,413.6 1234.7,411.2 1236.8,414.2 1238.8,415.3 1240.8,417.2 1242.9,416.6 1245.6,409.8 1247.7,409.5 1249.7,411.2 1251.7,411.5 1253.7,413.9 1256.4,419.3 1259.2,413.9 1261.9,412.5 1264.0,411.8 1266.0,408.5" fill="none" stroke="#0a0a0a" stroke-width="3.1" stroke-linejoin="round" stroke-linecap="round" />
<rect x="1201" y="26" width="62.5" height="42.5" fill="#fff" stroke="#333" stroke-width="1.5"/>
<text x="1235" y="51.7" font-size="23" text-anchor="middle" fill="#111" stroke="#111" stroke-width="0.35">N 1s</text>
<text x="832.5" y="46" font-size="29" text-anchor="middle" fill="#111" stroke="#111" stroke-width="0.35">(c)</text>
<text x="929" y="52.6" font-size="20" text-anchor="middle" fill="#111" stroke="#111" stroke-width="0.35">Nitride</text>
<text x="929" y="77.4" font-size="20" text-anchor="middle" fill="#111" stroke="#111" stroke-width="0.35">(TiN)</text>
<text x="991.6" y="148" font-size="18" fill="#111" stroke="#111" stroke-width="0.35">NH</text><text x="1020" y="139.5" font-size="14" fill="#111" stroke="#111" stroke-width="0.35">+</text>
<text x="1132.5" y="224.5" font-size="20" fill="#111" stroke="#111" stroke-width="0.35">NO</text><text x="1162.5" y="234" font-size="13" fill="#111" stroke="#111" stroke-width="0.35">3</text><line x1="1169.5" y1="212.3" x2="1174.5" y2="212.3" stroke="#222" stroke-width="1.6"/>
<text x="1176" y="163.3" font-size="20" fill="#111" stroke="#111" stroke-width="0.35">Ar</text><text x="1200.5" y="156" font-size="15" fill="#111" stroke="#111" stroke-width="0.35">+</text>
<text x="1176" y="188.4" font-size="20" fill="#111" stroke="#111" stroke-width="0.35">Sputtered</text>
<line x1="1229.8" y1="196.5" x2="1217.3" y2="236" stroke="#222" stroke-width="1.2"/>
<text x="1180" y="253.2" font-size="20" fill="#111" stroke="#111" stroke-width="0.35">20 min</text>
<text x="1187.6" y="296" font-size="20" fill="#111" stroke="#111" stroke-width="0.35">5 min</text>
<text x="1195" y="330.5" font-size="20" fill="#111" stroke="#111" stroke-width="0.35">1 min</text>
<text x="1217" y="395" font-size="21" fill="#111" stroke="#111" stroke-width="0.35">aa</text>
<text x="895.6" y="461" font-size="16" text-anchor="middle" fill="#111" stroke="#111" stroke-width="0.35">396</text>
<text x="982.8" y="461" font-size="16" text-anchor="middle" fill="#111" stroke="#111" stroke-width="0.35">400</text>
<text x="1070.0" y="461" font-size="16" text-anchor="middle" fill="#111" stroke="#111" stroke-width="0.35">404</text>
<text x="1157.2" y="461" font-size="16" text-anchor="middle" fill="#111" stroke="#111" stroke-width="0.35">408</text>
<text x="1244.4" y="461" font-size="16" text-anchor="middle" fill="#111" stroke="#111" stroke-width="0.35">412</text>
<text x="1060" y="495" font-size="23" text-anchor="middle" fill="#111" stroke="#111" stroke-width="0.35">Binding Energy <tspan font-style="italic">E</tspan><tspan font-size="16.5" dy="8.5">b</tspan><tspan dy="-8.5"> / eV</tspan></text>
<text transform="translate(834.5,230.2) rotate(-90)" font-size="23.8" text-anchor="middle" fill="#111" stroke="#111" stroke-width="0.35">Intensity / a.u.</text>
</svg></body></html>
